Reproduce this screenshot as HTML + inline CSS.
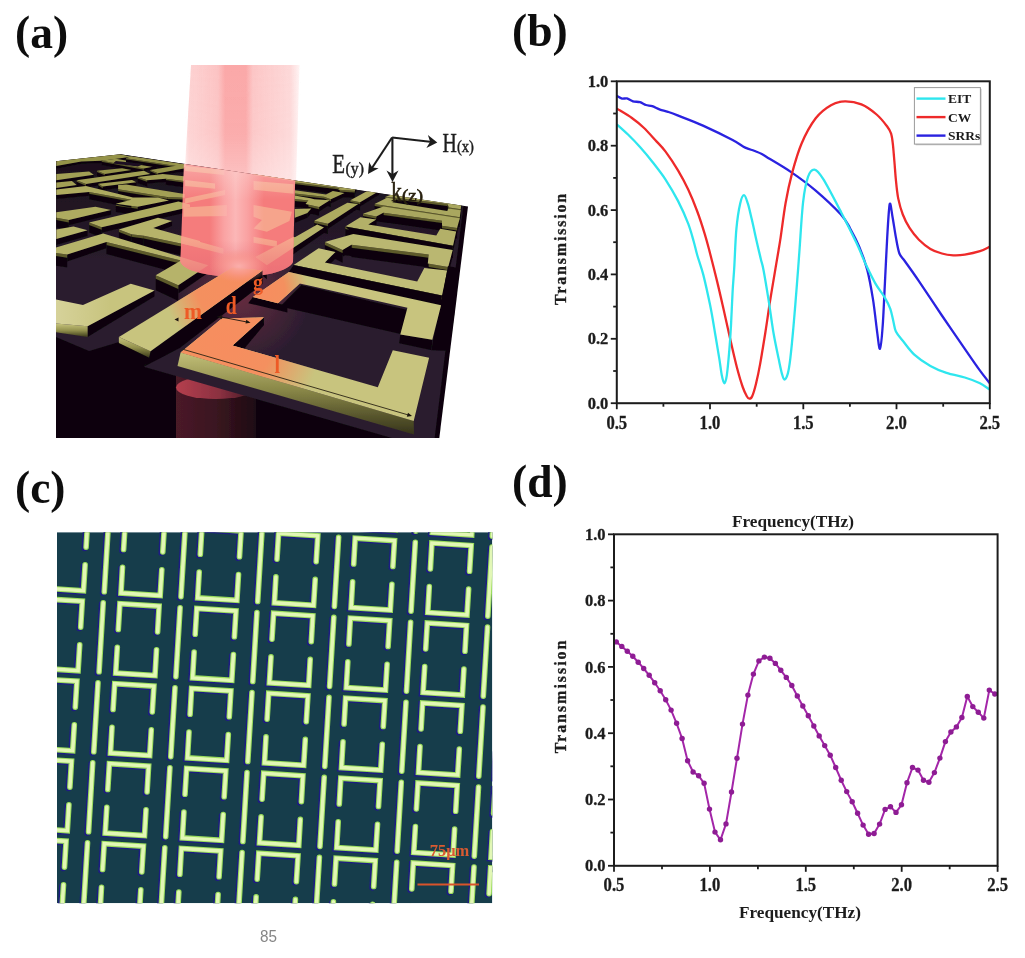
<!DOCTYPE html>
<html lang="en"><head><meta charset="utf-8"><title>Figure</title>
<style>html,body{margin:0;padding:0;background:#fff}body{width:1025px;height:958px;overflow:hidden;position:relative}svg{position:absolute;left:0;top:0;display:block}text{white-space:pre}</style></head>
<body>
<svg width="1025" height="958" viewBox="0 0 1025 958">
<defs><filter id="soft" x="-2%" y="-2%" width="104%" height="104%"><feGaussianBlur stdDeviation="0.6"/></filter><filter id="soft2" x="-2%" y="-2%" width="104%" height="104%"><feGaussianBlur stdDeviation="0.35"/></filter></defs>
<rect width="1025" height="958" fill="#fff"/>
<g filter="url(#soft)"><g id="pa">
<defs>
<linearGradient id="beamH" x1="0" x2="1" y1="0" y2="0"><stop offset="0" stop-color="#f86a6a" stop-opacity="0.10"/><stop offset="0.05" stop-color="#f86a6a" stop-opacity="0.30"/><stop offset="0.30" stop-color="#f86a6a" stop-opacity="0.40"/><stop offset="0.36" stop-color="#f86a6a" stop-opacity="0.58"/><stop offset="0.54" stop-color="#f86a6a" stop-opacity="0.58"/><stop offset="0.60" stop-color="#f86a6a" stop-opacity="0.38"/><stop offset="0.92" stop-color="#f86a6a" stop-opacity="0.26"/><stop offset="1" stop-color="#f86a6a" stop-opacity="0.08"/></linearGradient>
<linearGradient id="beamFade" gradientUnits="userSpaceOnUse" x1="0" x2="0" y1="65" y2="180"><stop offset="0" stop-color="#fff" stop-opacity="0"/><stop offset="0.6" stop-color="#fff" stop-opacity="0.05"/><stop offset="1" stop-color="#fff" stop-opacity="0.3"/></linearGradient>
<linearGradient id="beamCtr" gradientUnits="userSpaceOnUse" x1="182" x2="296" y1="0" y2="0"><stop offset="0.24" stop-color="#fcb4b4" stop-opacity="0"/><stop offset="0.37" stop-color="#fcb4b4" stop-opacity="0.7"/><stop offset="0.47" stop-color="#fcbcbc" stop-opacity="0.92"/><stop offset="0.57" stop-color="#fcb4b4" stop-opacity="0.7"/><stop offset="0.72" stop-color="#fcb4b4" stop-opacity="0"/></linearGradient>
<linearGradient id="beamBot" gradientUnits="userSpaceOnUse" x1="0" x2="0" y1="240" y2="280"><stop offset="0" stop-color="#e66a74" stop-opacity="0"/><stop offset="1" stop-color="#e66a74" stop-opacity="0.7"/></linearGradient>
<linearGradient id="beamTopFog" gradientUnits="userSpaceOnUse" x1="0" x2="0" y1="162" y2="200"><stop offset="0" stop-color="#fde0dc" stop-opacity="0.45"/><stop offset="1" stop-color="#fde0dc" stop-opacity="0"/></linearGradient>
<radialGradient id="glow" cx="0.5" cy="0.5" r="0.5"><stop offset="0" stop-color="#fbb0ac" stop-opacity="0.95"/><stop offset="0.45" stop-color="#fa9c94" stop-opacity="0.7"/><stop offset="1" stop-color="#f89080" stop-opacity="0"/></radialGradient>
<linearGradient id="beamLow" x1="0" x2="1" y1="0" y2="0"><stop offset="0" stop-color="#f87878" stop-opacity="0.88"/><stop offset="0.34" stop-color="#f87c7c" stop-opacity="0.86"/><stop offset="0.40" stop-color="#fbaaaa" stop-opacity="0.93"/><stop offset="0.58" stop-color="#fbaaaa" stop-opacity="0.93"/><stop offset="0.64" stop-color="#f87c7c" stop-opacity="0.86"/><stop offset="1" stop-color="#f87878" stop-opacity="0.88"/></linearGradient>
<radialGradient id="lit" gradientUnits="userSpaceOnUse" cx="262" cy="270" r="102"><stop offset="0" stop-color="#f78d5e" stop-opacity="1"/><stop offset="0.68" stop-color="#f4905e" stop-opacity="1"/><stop offset="1" stop-color="#f4905e" stop-opacity="0"/></radialGradient>
<radialGradient id="litB" gradientUnits="userSpaceOnUse" cx="225" cy="340" r="96"><stop offset="0" stop-color="#f78d5e" stop-opacity="1"/><stop offset="0.5" stop-color="#f4905e" stop-opacity="1"/><stop offset="1" stop-color="#f4905e" stop-opacity="0"/></radialGradient>
<radialGradient id="litC" gradientUnits="userSpaceOnUse" cx="262" cy="290" r="46"><stop offset="0" stop-color="#f78d5e" stop-opacity="1"/><stop offset="0.5" stop-color="#f4905e" stop-opacity="1"/><stop offset="1" stop-color="#f4905e" stop-opacity="0"/></radialGradient>
<radialGradient id="litSlab" gradientUnits="userSpaceOnUse" cx="240" cy="295" r="70"><stop offset="0" stop-color="#c0455a" stop-opacity="0.4"/><stop offset="1" stop-color="#c0455a" stop-opacity="0"/></radialGradient>
<linearGradient id="farDark" gradientUnits="userSpaceOnUse" x1="0" x2="0" y1="155" y2="270"><stop offset="0" stop-color="#0c060c" stop-opacity="0.6"/><stop offset="1" stop-color="#0c060c" stop-opacity="0"/></linearGradient>
<linearGradient id="front" x1="0" x2="0" y1="0" y2="1"><stop offset="0" stop-color="#c6c37c"/><stop offset="0.5" stop-color="#95934f"/><stop offset="1" stop-color="#3c3a1a"/></linearGradient>
<linearGradient id="front2" x1="0" x2="0" y1="0" y2="1"><stop offset="0" stop-color="#c2bf78"/><stop offset="0.45" stop-color="#8a8848"/><stop offset="1" stop-color="#35331a"/></linearGradient>
<linearGradient id="cylTop" gradientUnits="userSpaceOnUse" x1="176" x2="250" y1="0" y2="0"><stop offset="0" stop-color="#b53f4e"/><stop offset="0.6" stop-color="#8a3040"/><stop offset="1" stop-color="#4a1c28"/></linearGradient>
<linearGradient id="cylBody" gradientUnits="userSpaceOnUse" x1="176" x2="256" y1="0" y2="0"><stop offset="0" stop-color="#4a1a28"/><stop offset="0.5" stop-color="#3a1520"/><stop offset="1" stop-color="#1e0b12"/></linearGradient>
<linearGradient id="khL" gradientUnits="userSpaceOnUse" x1="56" x2="110" y1="0" y2="0"><stop offset="0" stop-color="#d6d29a"/><stop offset="1" stop-color="#c8c47e"/></linearGradient>
<clipPath id="silh"><polygon points="56.0,161.3 120.5,154.3 468.0,206.6 439.3,438.0 56.0,438.0"/></clipPath>
</defs>
<path d="M191,65 L299.5,65 L295.5,200 L183,200 Z" fill="url(#beamH)"/>
<path d="M189,64 L301,64 L297,200 L181,200 Z" fill="url(#beamFade)"/>
<polygon points="56.0,161.3 120.5,154.3 468.0,206.6 439.3,438.0 56.0,438.0" fill="#0c060c" />
<rect x="176" y="372" width="80" height="66" fill="url(#cylBody)"/>
<ellipse cx="215.7" cy="387.5" rx="39.7" ry="11.5" fill="url(#cylTop)"/>
<g clip-path="url(#silh)">
<polygon points="56.0,161.3 120.5,154.3 463.3,205.9 434.6,438.0 392.0,438.0 143.9,366.7 150.0,358.0 119.0,342.0 89.1,351.0 56.0,337.0" fill="#2b1d2f" />
<polygon points="56.0,161.3 120.5,154.3 463.3,205.9 434.6,438.0 392.0,438.0 143.9,366.7 150.0,358.0 119.0,342.0 89.1,351.0 56.0,337.0" fill="url(#litSlab)" />
<polygon points="56.0,161.3 120.5,154.3 463.3,205.9 434.6,438.0 392.0,438.0 143.9,366.7 150.0,358.0 119.0,342.0 89.1,351.0 56.0,337.0" fill="url(#farDark)" />
<polygon points="131.4,156.7 101.7,160.7 101.7,163.0 131.4,158.9" fill="#0c060c" />
<polygon points="101.7,160.7 81.3,161.4 81.3,163.8 101.7,163.0" fill="#0c060c" />
<polygon points="81.3,161.4 56.3,166.1 56.3,168.7 81.3,163.8" fill="#0c060c" />
<polygon points="56.3,159.9 81.3,157.5 118.9,154.1 131.4,156.7 101.7,160.7 81.3,161.4 56.3,166.1" fill="#95934a" />
<polygon points="156.5,166.1 143.9,168.5 143.9,171.2 156.5,168.7" fill="#0c060c" />
<polygon points="143.9,168.5 101.7,160.7 101.7,165.1 143.9,173.6" fill="#0c060c" />
<polygon points="143.9,168.5 101.7,160.7 101.7,161.7 143.9,169.7" fill="#5d5a2c" />
<polygon points="101.7,160.7 115.8,158.8 156.5,166.1 143.9,168.5" fill="#95934a" />
<polygon points="186.0,167.5 126.0,158.3 126.0,162.5 186.0,172.5" fill="#0c060c" />
<polygon points="186.0,167.5 126.0,158.3 126.0,159.3 186.0,168.7" fill="#5d5a2c" />
<polygon points="131.0,156.2 186.0,164.5 186.0,167.5 126.0,158.3" fill="#95934a" />
<polygon points="93.8,174.7 56.3,180.2 56.3,183.5 93.8,177.7" fill="#0c060c" />
<polygon points="56.3,174.0 89.1,171.6 93.8,174.7 56.3,180.2" fill="#a29f55" />
<polygon points="131.4,170.0 104.8,174.0 104.8,177.0 131.4,172.8" fill="#0c060c" />
<polygon points="104.8,174.0 97.0,170.8 97.0,176.1 104.8,179.6" fill="#0c060c" />
<polygon points="104.8,174.0 97.0,170.8 97.0,172.1 104.8,175.3" fill="#5d5a2c" />
<polygon points="97.0,170.8 122.0,168.2 131.4,170.0 104.8,174.0" fill="#95934a" />
<polygon points="183.9,168.5 158.0,173.2 158.0,176.1 183.9,171.2" fill="#0c060c" />
<polygon points="158.0,173.2 150.2,170.0 150.2,175.3 158.0,178.8" fill="#0c060c" />
<polygon points="158.0,173.2 150.2,170.0 150.2,171.2 158.0,174.5" fill="#5d5a2c" />
<polygon points="150.2,170.0 183.9,164.6 183.9,168.5 158.0,173.2" fill="#95934a" />
<polygon points="150.2,174.0 86.0,184.1 86.0,187.6 150.2,177.0" fill="#0c060c" />
<polygon points="86.0,184.1 76.6,180.2 76.6,186.4 86.0,190.7" fill="#0c060c" />
<polygon points="86.0,184.1 76.6,180.2 76.6,181.7 86.0,185.7" fill="#5d5a2c" />
<polygon points="76.6,180.2 143.9,170.8 150.2,174.0 86.0,184.1" fill="#a29f55" />
<polygon points="183.9,181.0 165.9,178.7 165.9,184.8 183.9,187.3" fill="#0c060c" />
<polygon points="183.9,181.0 165.9,178.7 165.9,180.1 183.9,182.5" fill="#5d5a2c" />
<polygon points="165.9,178.7 147.1,180.2 147.1,183.5 165.9,181.9" fill="#0c060c" />
<polygon points="147.1,180.2 137.7,177.1 137.7,183.0 147.1,186.4" fill="#0c060c" />
<polygon points="147.1,180.2 137.7,177.1 137.7,178.5 147.1,181.7" fill="#5d5a2c" />
<polygon points="137.7,177.1 162.7,174.0 183.9,176.3 183.9,181.0 165.9,178.7 147.1,180.2" fill="#a29f55" />
<polygon points="76.6,184.9 56.3,188.1 56.3,191.7 76.6,188.4" fill="#0c060c" />
<polygon points="56.3,182.6 71.9,181.0 76.6,184.9 56.3,188.1" fill="#a29f55" />
<polygon points="136.3,182.2 102.7,186.6 102.7,190.2 136.3,185.6" fill="#0c060c" />
<polygon points="102.7,186.6 98.3,183.7 98.3,190.2 102.7,193.4" fill="#0c060c" />
<polygon points="102.7,186.6 98.3,183.7 98.3,185.2 102.7,188.2" fill="#5d5a2c" />
<polygon points="98.3,183.7 132.0,180.0 136.3,182.2 102.7,186.6" fill="#a29f55" />
<polygon points="184.6,197.7 167.1,197.1 167.1,204.8 184.6,205.5" fill="#0c060c" />
<polygon points="184.6,197.7 167.1,197.1 167.1,198.9 184.6,199.5" fill="#5d5a2c" />
<polygon points="167.1,197.1 118.1,189.2 118.1,196.2 167.1,204.8" fill="#0c060c" />
<polygon points="167.1,197.1 118.1,189.2 118.1,190.9 167.1,198.9" fill="#5d5a2c" />
<polygon points="118.1,185.1 126.1,184.5 184.6,193.9 184.6,197.7 167.1,197.1 118.1,189.2" fill="#a29f55" />
<polygon points="169.0,200.6 137.7,206.8 137.7,211.3 169.0,204.8" fill="#0c060c" />
<polygon points="137.7,206.8 115.8,203.7 115.8,212.0 137.7,215.4" fill="#0c060c" />
<polygon points="137.7,206.8 115.8,203.7 115.8,205.7 137.7,208.8" fill="#5d5a2c" />
<polygon points="131.4,199.8 89.1,192.0 89.1,199.3 131.4,207.8" fill="#0c060c" />
<polygon points="131.4,199.8 89.1,192.0 89.1,193.7 131.4,201.7" fill="#5d5a2c" />
<polygon points="89.1,192.0 56.3,195.1 56.3,199.1 89.1,195.8" fill="#0c060c" />
<polygon points="56.3,189.6 86.0,186.0 133.0,197.4 158.0,197.4 169.0,200.6 137.7,206.8 115.8,203.7 131.4,199.8 89.1,192.0 56.3,195.1" fill="#aeab60" />
<polygon points="111.1,210.0 68.8,220.1 68.8,225.3 111.1,214.7" fill="#0c060c" />
<polygon points="68.8,220.1 56.3,217.8 56.3,227.4 68.8,229.9" fill="#0c060c" />
<polygon points="68.8,220.1 56.3,217.8 56.3,220.1 68.8,222.4" fill="#5d5a2c" />
<polygon points="56.3,212.3 95.4,206.8 111.1,210.0 68.8,220.1 56.3,217.8" fill="#aeab60" />
<polygon points="190.0,207.0 101.7,227.2 101.7,232.7 190.0,211.6" fill="#0c060c" />
<polygon points="101.7,227.2 89.1,222.5 89.1,232.6 101.7,237.7" fill="#0c060c" />
<polygon points="101.7,227.2 89.1,222.5 89.1,224.9 101.7,229.7" fill="#5d5a2c" />
<polygon points="89.1,222.5 178.4,201.4 190.0,204.5 190.0,207.0 101.7,227.2" fill="#aeab60" />
<polygon points="87.6,230.3 56.3,238.9 56.3,245.0 87.6,236.0" fill="#0c060c" />
<polygon points="56.3,229.5 73.5,226.4 87.6,230.3 56.3,238.9" fill="#b6b36a" />
<polygon points="172.1,220.9 153.3,228.0 153.3,233.6 172.1,226.1" fill="#0c060c" />
<polygon points="200.0,247.5 143.9,235.8 143.9,247.1 200.0,259.8" fill="#0c060c" />
<polygon points="200.0,247.5 143.9,235.8 143.9,238.5 200.0,250.4" fill="#5d5a2c" />
<polygon points="143.9,235.8 131.4,234.2 131.4,245.3 143.9,247.1" fill="#0c060c" />
<polygon points="143.9,235.8 131.4,234.2 131.4,236.8 143.9,238.5" fill="#5d5a2c" />
<polygon points="131.4,234.2 118.9,229.5 118.9,240.2 131.4,245.3" fill="#0c060c" />
<polygon points="131.4,234.2 118.9,229.5 118.9,232.0 131.4,236.8" fill="#5d5a2c" />
<polygon points="118.9,229.5 158.0,217.8 172.1,220.9 153.3,228.0 200.0,241.0 200.0,247.5 143.9,235.8 131.4,234.2" fill="#b6b36a" />
<polygon points="208.3,265.3 178.3,285.3 178.3,293.6 208.3,272.7" fill="#0c060c" />
<polygon points="178.3,285.3 155.7,275.3 155.7,290.2 178.3,301.1" fill="#0c060c" />
<polygon points="178.3,285.3 155.7,275.3 155.7,278.8 178.3,289.0" fill="#5d5a2c" />
<polygon points="181.0,260.5 106.4,242.1 106.4,253.9 181.0,274.0" fill="#0c060c" />
<polygon points="181.0,260.5 106.4,242.1 106.4,244.9 181.0,263.7" fill="#5d5a2c" />
<polygon points="106.4,242.1 67.2,254.6 67.2,261.4 106.4,248.3" fill="#0c060c" />
<polygon points="67.2,254.6 56.0,253.0 56.0,265.8 67.2,267.6" fill="#0c060c" />
<polygon points="67.2,254.6 56.0,253.0 56.0,256.0 67.2,257.7" fill="#5d5a2c" />
<polygon points="56.0,247.5 103.2,233.5 208.3,265.3 178.3,285.3 155.7,275.3 181.0,260.5 106.4,242.1 67.2,254.6 56.0,253.0" fill="#b6b36a" />
<polygon points="115.9,161.0 143.7,163.9 137.8,166.4 112.9,163.5" fill="#1a1020" />
<polygon points="224.3,175.1 185.1,170.9 185.1,176.3 224.3,180.8" fill="#0c060c" />
<polygon points="224.3,175.1 185.1,170.9 185.1,172.2 224.3,176.5" fill="#5d5a2c" />
<polygon points="185.1,165.9 224.3,170.0 224.3,175.1 185.1,170.9" fill="#95934a" />
<polygon points="215.1,188.7 185.1,185.9 185.1,192.6 215.1,195.7" fill="#0c060c" />
<polygon points="215.1,188.7 185.1,185.9 185.1,187.5 215.1,190.4" fill="#5d5a2c" />
<polygon points="185.1,180.1 215.1,183.4 215.1,188.7 185.1,185.9" fill="#a29f55" />
<polygon points="225.1,195.1 185.1,203.4 185.1,207.8 225.1,199.1" fill="#0c060c" />
<polygon points="185.1,198.4 225.1,190.1 225.1,195.1 185.1,203.4" fill="#aeab60" />
<polygon points="226.8,216.0 183.4,216.8 183.4,221.8 226.8,221.0" fill="#0c060c" />
<polygon points="183.4,207.6 226.8,205.1 226.8,216.0 183.4,216.8" fill="#aeab60" />
<polygon points="223.5,253.9 181.7,243.5 181.7,255.5 223.5,266.8" fill="#0c060c" />
<polygon points="223.5,253.9 181.7,243.5 181.7,246.3 223.5,257.0" fill="#5d5a2c" />
<polygon points="181.7,236.8 223.5,248.5 223.5,253.9 181.7,243.5" fill="#b6b36a" />
<polygon points="293.6,180.9 253.5,175.1 253.5,180.8 293.6,187.2" fill="#0c060c" />
<polygon points="293.6,180.9 253.5,175.1 253.5,176.5 293.6,182.4" fill="#5d5a2c" />
<polygon points="253.5,171.7 293.6,177.6 293.6,180.9 253.5,175.1" fill="#a29f55" />
<polygon points="293.6,193.8 253.5,189.7 253.5,196.8 293.6,201.2" fill="#0c060c" />
<polygon points="293.6,193.8 253.5,189.7 253.5,191.4 293.6,195.6" fill="#5d5a2c" />
<polygon points="253.5,180.9 293.6,184.2 293.6,193.8 253.5,189.7" fill="#a29f55" />
<polygon points="291.9,211.8 289.4,221.0 289.4,226.2 291.9,216.6" fill="#0c060c" />
<polygon points="289.4,221.0 266.9,231.8 266.9,237.5 289.4,226.2" fill="#0c060c" />
<polygon points="266.9,231.8 253.5,228.5 253.5,239.1 266.9,242.7" fill="#0c060c" />
<polygon points="266.9,231.8 253.5,228.5 253.5,231.0 266.9,234.4" fill="#5d5a2c" />
<polygon points="261.9,220.1 253.5,216.8 253.5,226.3 261.9,229.9" fill="#0c060c" />
<polygon points="261.9,220.1 253.5,216.8 253.5,219.1 261.9,222.4" fill="#5d5a2c" />
<polygon points="253.5,205.1 291.9,211.8 289.4,221.0 266.9,231.8 253.5,228.5 261.9,220.1 253.5,216.8" fill="#aeab60" />
<polygon points="276.9,246.9 253.5,242.7 253.5,254.6 276.9,259.2" fill="#0c060c" />
<polygon points="276.9,246.9 253.5,242.7 253.5,245.5 276.9,249.8" fill="#5d5a2c" />
<polygon points="253.5,236.8 276.9,241.0 276.9,246.9 253.5,242.7" fill="#b6b36a" />
<polygon points="356.7,186.4 354.8,190.7 354.8,194.5 356.7,190.0" fill="#0c060c" />
<polygon points="354.8,190.7 338.2,189.8 338.2,196.9 354.8,197.9" fill="#0c060c" />
<polygon points="354.8,190.7 338.2,189.8 338.2,191.5 354.8,192.4" fill="#5d5a2c" />
<polygon points="339.6,188.0 294.8,182.5 294.8,188.9 339.6,194.9" fill="#0c060c" />
<polygon points="339.6,188.0 294.8,182.5 294.8,184.0 339.6,189.6" fill="#5d5a2c" />
<polygon points="294.8,179.1 339.6,184.4 356.7,186.4 354.8,190.7 338.2,189.8 339.6,188.0 294.8,182.5" fill="#a29f55" />
<polygon points="344.5,192.9 330.9,199.3 330.9,203.5 344.5,196.8" fill="#0c060c" />
<polygon points="330.9,199.3 324.0,196.8 324.0,204.5 330.9,207.2" fill="#0c060c" />
<polygon points="330.9,199.3 324.0,196.8 324.0,198.6 330.9,201.2" fill="#5d5a2c" />
<polygon points="324.0,196.8 294.8,193.4 294.8,200.8 324.0,204.5" fill="#0c060c" />
<polygon points="324.0,196.8 294.8,193.4 294.8,195.2 324.0,198.6" fill="#5d5a2c" />
<polygon points="294.8,190.3 326.0,194.4 332.8,191.0 344.5,192.9 330.9,199.3 324.0,196.8 294.8,193.4" fill="#a29f55" />
<polygon points="329.9,200.2 319.1,207.1 319.1,211.7 329.9,204.4" fill="#0c060c" />
<polygon points="319.1,207.1 305.5,204.1 305.5,212.5 319.1,215.8" fill="#0c060c" />
<polygon points="319.1,207.1 305.5,204.1 305.5,206.1 319.1,209.2" fill="#5d5a2c" />
<polygon points="308.4,200.4 294.8,199.1 294.8,207.0 308.4,208.4" fill="#0c060c" />
<polygon points="308.4,200.4 294.8,199.1 294.8,201.0 308.4,202.3" fill="#5d5a2c" />
<polygon points="294.8,195.6 310.4,198.3 314.3,199.3 329.9,200.2 319.1,207.1 305.5,204.1 308.4,200.4 294.8,199.1" fill="#aeab60" />
<polygon points="311.3,208.5 307.4,212.9 307.4,217.7 311.3,213.1" fill="#0c060c" />
<polygon points="307.4,212.9 294.8,217.8 294.8,222.9 307.4,217.7" fill="#0c060c" />
<polygon points="294.8,209.0 311.3,208.5 307.4,212.9 294.8,217.8" fill="#aeab60" />
<polygon points="379.1,191.0 360.1,202.2 360.1,206.5 379.1,194.8" fill="#0c060c" />
<polygon points="360.1,202.2 350.4,200.2 350.4,208.2 360.1,210.4" fill="#0c060c" />
<polygon points="360.1,202.2 350.4,200.2 350.4,202.1 360.1,204.1" fill="#5d5a2c" />
<polygon points="350.4,200.2 370.9,189.0 379.1,191.0 360.1,202.2" fill="#aeab60" />
<polygon points="358.2,204.1 327.9,223.7 327.9,229.1 358.2,208.5" fill="#0c060c" />
<polygon points="327.9,223.7 314.3,220.7 314.3,230.6 327.9,233.9" fill="#0c060c" />
<polygon points="327.9,223.7 314.3,220.7 314.3,223.0 327.9,226.1" fill="#5d5a2c" />
<polygon points="314.3,220.7 347.4,202.7 358.2,204.1 327.9,223.7" fill="#aeab60" />
<polygon points="324.0,227.6 266.9,265.2 266.9,272.5 324.0,233.1" fill="#0c060c" />
<polygon points="266.9,265.2 255.2,256.9 255.2,270.1 266.9,279.2" fill="#0c060c" />
<polygon points="266.9,265.2 255.2,256.9 255.2,260.0 266.9,268.5" fill="#5d5a2c" />
<polygon points="255.2,256.9 293.6,236.8 294.9,237.3 317.2,224.6 324.0,227.6 266.9,265.2" fill="#b6b36a" />
<polygon points="461.5,203.1 460.7,209.3 460.7,214.0 461.5,207.5" fill="#0c060c" />
<polygon points="460.7,209.3 449.1,207.5 449.1,216.2 460.7,218.2" fill="#0c060c" />
<polygon points="460.7,209.3 449.1,207.5 449.1,209.6 460.7,211.4" fill="#5d5a2c" />
<polygon points="449.1,207.5 447.3,204.0 447.3,212.4 449.1,216.2" fill="#0c060c" />
<polygon points="449.1,207.5 447.3,204.0 447.3,206.0 449.1,209.6" fill="#5d5a2c" />
<polygon points="447.3,204.0 395.9,197.8 395.9,205.6 447.3,212.4" fill="#0c060c" />
<polygon points="447.3,204.0 395.9,197.8 395.9,199.6 447.3,206.0" fill="#5d5a2c" />
<polygon points="395.9,197.8 385.2,196.9 385.2,204.6 395.9,205.6" fill="#0c060c" />
<polygon points="395.9,197.8 385.2,196.9 385.2,198.7 395.9,199.6" fill="#5d5a2c" />
<polygon points="385.2,196.9 392.3,194.2 461.5,203.1 460.7,209.3 449.1,207.5 447.3,204.0 395.9,197.8" fill="#a9a75e" />
<polygon points="395.9,199.2 392.3,202.2 392.3,206.5 395.9,203.4" fill="#0c060c" />
<polygon points="460.7,210.2 459.8,217.3 459.8,222.3 460.7,214.9" fill="#0c060c" />
<polygon points="459.8,217.3 374.6,204.0 374.6,212.4 459.8,226.9" fill="#0c060c" />
<polygon points="459.8,217.3 374.6,204.0 374.6,206.0 459.8,219.6" fill="#5d5a2c" />
<polygon points="374.6,204.0 387.0,197.8 395.9,199.2 392.3,202.2 447.3,211.1 448.2,208.4 460.7,210.2 459.8,217.3" fill="#a9a75e" />
<polygon points="383.4,212.8 442.0,220.8 441.0,229.0 372.0,221.0" fill="#0c060c" />
<polygon points="459.8,218.2 457.1,227.9 457.1,233.5 459.8,223.3" fill="#0c060c" />
<polygon points="457.1,227.9 442.0,225.8 442.0,236.2 457.1,238.5" fill="#0c060c" />
<polygon points="457.1,227.9 442.0,225.8 442.0,228.3 457.1,230.4" fill="#5d5a2c" />
<polygon points="442.0,220.8 383.4,212.8 383.4,222.0 442.0,230.7" fill="#0c060c" />
<polygon points="442.0,220.8 383.4,212.8 383.4,215.0 442.0,223.1" fill="#5d5a2c" />
<polygon points="383.4,212.8 376.3,216.4 376.3,221.4 383.4,217.6" fill="#0c060c" />
<polygon points="376.3,216.4 363.0,213.7 363.0,223.0 376.3,225.9" fill="#0c060c" />
<polygon points="376.3,216.4 363.0,213.7 363.0,215.9 376.3,218.7" fill="#5d5a2c" />
<polygon points="363.0,213.7 383.4,206.6 459.8,218.2 457.1,227.9 442.0,225.8 442.0,220.8 383.4,212.8 376.3,216.4" fill="#a9a75e" />
<polygon points="376.3,219.4 368.3,224.4 368.3,229.8 376.3,224.5" fill="#0c060c" />
<polygon points="456.2,231.5 453.0,245.7 453.0,252.1 456.2,237.2" fill="#0c060c" />
<polygon points="453.0,245.7 345.3,226.5 345.3,236.9 453.0,257.9" fill="#0c060c" />
<polygon points="453.0,245.7 345.3,226.5 345.3,229.0 453.0,248.6" fill="#5d5a2c" />
<polygon points="345.3,226.5 360.4,217.3 376.3,219.4 368.3,224.4 436.3,235.4 440.2,228.8 456.2,231.5 453.0,245.7" fill="#b3b068" />
<polygon points="345.3,226.5 453.0,245.7 452.7,250.1 353.3,234.1" fill="#0c060c" />
<polygon points="351.5,244.8 428.7,254.6 425.5,266.5 336.0,254.0" fill="#0c060c" />
<polygon points="452.7,250.1 448.2,267.0 448.2,274.4 452.7,256.7" fill="#0c060c" />
<polygon points="448.2,267.0 427.8,263.4 427.8,277.2 448.2,281.1" fill="#0c060c" />
<polygon points="448.2,267.0 427.8,263.4 427.8,266.7 448.2,270.3" fill="#5d5a2c" />
<polygon points="428.7,254.6 351.5,244.8 351.5,256.9 428.7,267.6" fill="#0c060c" />
<polygon points="428.7,254.6 351.5,244.8 351.5,247.7 428.7,257.7" fill="#5d5a2c" />
<polygon points="351.5,244.8 342.6,250.1 342.6,256.7 351.5,251.2" fill="#0c060c" />
<polygon points="342.6,250.1 324.9,242.1 324.9,253.9 342.6,262.7" fill="#0c060c" />
<polygon points="342.6,250.1 324.9,242.1 324.9,244.9 342.6,253.1" fill="#5d5a2c" />
<polygon points="324.9,242.1 353.3,234.1 452.7,250.1 448.2,267.0 427.8,263.4 428.7,254.6 351.5,244.8 342.6,250.1" fill="#bab771" />
<polygon points="335.5,251.9 324.9,262.5 324.9,269.7 335.5,258.6" fill="#0c060c" />
<polygon points="447.3,270.5 442.0,295.4 442.0,304.2 447.3,278.1" fill="#0c060c" />
<polygon points="442.0,295.4 293.6,264.9 293.6,278.8 442.0,312.1" fill="#0c060c" />
<polygon points="442.0,295.4 293.6,264.9 293.6,268.2 442.0,299.4" fill="#5d5a2c" />
<polygon points="293.6,264.9 318.6,248.3 335.5,251.9 324.9,262.5 417.2,281.5 424.3,267.9 447.3,270.5 442.0,295.4" fill="#c1be78" />
<polygon points="440.4,306.0 455.0,309.0 449.2,351.0 431.6,350.2 432.9,340.2" fill="#0c060c" />
<polygon points="447.9,266.0 458.5,268.0 454.6,311.0 440.4,308.0" fill="#0c060c" />
<polygon points="293.6,264.9 442.0,295.4 441.1,305.2 288.9,271.9" fill="#0c060c" />
<polygon points="301.4,285.1 407.8,310.1 400.3,333.9 280.1,306.4" fill="#0c060c" />
<polygon points="252.9,296.9 278.0,303.2 287.4,306.3 287.4,312.6 248.2,303.2" fill="#0c060c" />
<polygon points="400.3,334.4 432.3,339.8 431.6,350.2 399.1,343.2" fill="#0c060c" />
<polygon points="252.9,296.9 288.9,271.9 441.1,305.2 432.3,339.8 400.3,334.4 407.4,307.8 299.9,283.6 278.0,303.2" fill="#c8c47e" />
<polygon points="252.9,296.9 288.9,271.9 441.1,305.2 432.3,339.8 400.3,334.4 407.4,307.8 299.9,283.6 278.0,303.2" fill="url(#litC)" />
<clipPath id="beamClip"><path d="M184.5,150 L296,150 L293,262 A56.5,17 0 0 1 180.5,258 Z"/></clipPath>
<g clip-path="url(#beamClip)">
<rect x="170" y="150" width="140" height="140" fill="#f57b7b"/>
<polygon points="131.0,156.2 186.0,164.5 186.0,167.5 126.0,158.3" fill="#f6a48c" />
<polygon points="150.2,170.0 183.9,164.6 183.9,168.5 158.0,173.2" fill="#f6a48c" />
<polygon points="137.7,177.1 162.7,174.0 183.9,176.3 183.9,181.0 165.9,178.7 147.1,180.2" fill="#f6a48c" />
<polygon points="118.1,185.1 126.1,184.5 184.6,193.9 184.6,197.7 167.1,197.1 118.1,189.2" fill="#f6a48c" />
<polygon points="89.1,222.5 178.4,201.4 190.0,204.5 190.0,207.0 101.7,227.2" fill="#f6a48c" />
<polygon points="118.9,229.5 158.0,217.8 172.1,220.9 153.3,228.0 200.0,241.0 200.0,247.5 143.9,235.8 131.4,234.2" fill="#f6a48c" />
<polygon points="56.0,247.5 103.2,233.5 208.3,265.3 178.3,285.3 155.7,275.3 181.0,260.5 106.4,242.1 67.2,254.6 56.0,253.0" fill="#f6a48c" />
<polygon points="185.1,165.9 224.3,170.0 224.3,175.1 185.1,170.9" fill="#f6a48c" />
<polygon points="185.1,180.1 215.1,183.4 215.1,188.7 185.1,185.9" fill="#f6a48c" />
<polygon points="185.1,198.4 225.1,190.1 225.1,195.1 185.1,203.4" fill="#f6a48c" />
<polygon points="183.4,207.6 226.8,205.1 226.8,216.0 183.4,216.8" fill="#f6a48c" />
<polygon points="181.7,236.8 223.5,248.5 223.5,253.9 181.7,243.5" fill="#f6a48c" />
<polygon points="253.5,171.7 293.6,177.6 293.6,180.9 253.5,175.1" fill="#f6a48c" />
<polygon points="253.5,180.9 293.6,184.2 293.6,193.8 253.5,189.7" fill="#f6a48c" />
<polygon points="253.5,205.1 291.9,211.8 289.4,221.0 266.9,231.8 253.5,228.5 261.9,220.1 253.5,216.8" fill="#f6a48c" />
<polygon points="253.5,236.8 276.9,241.0 276.9,246.9 253.5,242.7" fill="#f6a48c" />
<polygon points="294.8,179.1 339.6,184.4 356.7,186.4 354.8,190.7 338.2,189.8 339.6,188.0 294.8,182.5" fill="#f6a48c" />
<polygon points="294.8,190.3 326.0,194.4 332.8,191.0 344.5,192.9 330.9,199.3 324.0,196.8 294.8,193.4" fill="#f6a48c" />
<polygon points="294.8,195.6 310.4,198.3 314.3,199.3 329.9,200.2 319.1,207.1 305.5,204.1 308.4,200.4 294.8,199.1" fill="#f6a48c" />
<polygon points="294.8,209.0 311.3,208.5 307.4,212.9 294.8,217.8" fill="#f6a48c" />
<polygon points="255.2,256.9 293.6,236.8 294.9,237.3 317.2,224.6 324.0,227.6 266.9,265.2" fill="#f6a48c" />
<polygon points="293.6,264.9 318.6,248.3 335.5,251.9 324.9,262.5 417.2,281.5 424.3,267.9 447.3,270.5 442.0,295.4" fill="#f6a48c" />
<rect x="170" y="150" width="140" height="140" fill="url(#beamCtr)"/>
<rect x="170" y="240" width="140" height="50" fill="url(#beamBot)"/>
<rect x="170" y="150" width="140" height="60" fill="url(#beamTopFog)"/>
</g>
<polygon points="87.6,326.3 154.5,290.5 154.5,296.5 87.6,337.0" fill="#0c060c" />
<polygon points="56.0,323.6 87.6,326.3 87.6,337.0 56.0,332.3" fill="url(#front)" />
<polygon points="56.0,299.4 83.0,305.0 130.7,283.8 154.5,290.5 87.6,326.3 56.0,323.6" fill="url(#khL)" />
<polygon points="150.5,351.3 262.5,270.4 262.5,284.0 179.9,347.9 143.9,366.7 149.0,357.5" fill="#0c060c" />
<polygon points="118.9,337.0 150.5,351.3 149.0,357.5 118.9,343.0" fill="url(#front)" />
<polygon points="118.9,337.0 232.5,267.6 262.5,270.4 150.5,351.3" fill="#c8c47e" />
<polygon points="118.9,337.0 232.5,267.6 262.5,270.4 150.5,351.3" fill="url(#lit)" />
<polygon points="263.9,317.3 232.6,345.5 244.0,349.0 264.0,325.0" fill="#0c060c" />
<polygon points="180.6,352.6 413.7,421.0 414.0,434.5 177.5,366.0" fill="url(#front2)" />
<polygon points="180.6,352.6 221.8,318.5 263.9,317.3 232.6,345.5 377.8,387.3 392.8,350.2 429.1,357.7 413.7,421.0" fill="#c8c47e" />
<polygon points="180.6,352.6 221.8,318.5 263.9,317.3 232.6,345.5 377.8,387.3 392.8,350.2 429.1,357.7 413.7,421.0" fill="url(#litB)" />
<line x1="182" y1="349" x2="410.5" y2="415.6" stroke="#2a2414" stroke-width="0.9"/>
<ellipse cx="239" cy="266" rx="30" ry="17" fill="url(#glow)"/>
</g>
<g stroke="#1e1e1e" stroke-width="2.1" fill="#1e1e1e">
<line x1="392.1" y1="137.5" x2="430" y2="141.8"/><polygon points="437.3,142.6 426.4,147.9 430.1,141.8 427.9,135.1" stroke="none"/>
<line x1="392.1" y1="137.5" x2="372" y2="168"/><polygon points="368,174 369.1,162 372.3,167.5 378.6,168.2" stroke="none"/>
<line x1="392.4" y1="137.5" x2="392.4" y2="174"/><polygon points="392.5,182 386.5,170.5 392.5,174 398.5,170.5" stroke="none"/>
</g>
<text x="332.2" y="173.2" font-family='"Liberation Serif", serif' font-size="27" fill="#1e1e1e" stroke="#1e1e1e" stroke-width="0.45" textLength="12.8" lengthAdjust="spacingAndGlyphs">E</text><text x="345.6" y="173.6" font-family='"Liberation Serif", serif' font-size="17" fill="#1e1e1e" stroke="#1e1e1e" stroke-width="0.45" textLength="18.3" lengthAdjust="spacingAndGlyphs">(y)</text>
<text x="442.4" y="151.9" font-family='"Liberation Serif", serif' font-size="27.5" fill="#1e1e1e" stroke="#1e1e1e" stroke-width="0.45" textLength="14.3" lengthAdjust="spacingAndGlyphs">H</text><text x="456.9" y="152" font-family='"Liberation Serif", serif' font-size="17" fill="#1e1e1e" stroke="#1e1e1e" stroke-width="0.45" textLength="17" lengthAdjust="spacingAndGlyphs">(x)</text>
<text x="391.3" y="200.6" font-family='"Liberation Serif", serif' font-size="27" fill="#28200f" stroke="#28200f" stroke-width="0.6" textLength="10.5" lengthAdjust="spacingAndGlyphs">k</text><text x="402" y="200.6" font-family='"Liberation Serif", serif' font-size="16" fill="#28200f" stroke="#28200f" stroke-width="0.6" textLength="21" lengthAdjust="spacingAndGlyphs">(z)</text>
<text x="184" y="319" font-family='"Liberation Serif", serif' font-weight="700" font-size="24" fill="#ee5a26" textLength="18" lengthAdjust="spacingAndGlyphs">m</text>
<text x="225.7" y="314.3" font-family='"Liberation Serif", serif' font-weight="700" font-size="26" fill="#ee5a26" textLength="11" lengthAdjust="spacingAndGlyphs">d</text>
<text x="253" y="290" font-family='"Liberation Serif", serif' font-weight="700" font-size="24" fill="#ee5a26" textLength="10" lengthAdjust="spacingAndGlyphs">g</text>
<text x="274.5" y="372.5" font-family='"Liberation Serif", serif' font-weight="700" font-size="25" fill="#ee5a26" textLength="5.5" lengthAdjust="spacingAndGlyphs">l</text>
<g stroke="#1a1410" stroke-width="0.9" fill="#1a1410">
<line x1="219" y1="316.6" x2="249" y2="322.4"/><polygon points="250.5,322.7 245.5,323.6 246.3,319.8" stroke="none"/><polygon points="217.5,316.3 222.5,315.4 221.7,319.2" stroke="none"/>
<polygon points="174.5,319.5 178.5,317.6 178.5,321.4" stroke="none"/>
<polygon points="412,416 406.8,416.8 408,412.8" stroke="none"/>
</g>
</g>
</g>
<g filter="url(#soft)"><g id="pc">
<clipPath id="cc"><rect x="57" y="532.2" width="435.3" height="371.0"/></clipPath>
<g clip-path="url(#cc)">
<rect x="57" y="532.2" width="435.3" height="371.0" fill="#173e4b"/>
<path d="M-18.7 379.8 L-17.2 353.9 L22.1 356.4 L20.5 382.2M-19.8 397.5 L-21.3 423.4 L17.9 425.9 L19.5 400.0M-33.8 353.1 L-38.0 422.1M-24.3 459.8 L-22.7 433.9 L16.5 436.4 L15.0 462.2M-25.3 477.5 L-26.9 503.4 L12.4 505.9 L13.9 480.0M-39.4 433.1 L-43.5 502.1M-29.8 539.8 L-28.3 513.9 L11.0 516.4 L9.4 542.2M-30.9 557.5 L-32.4 583.4 L6.8 585.9 L8.4 560.0M-44.9 513.1 L-49.1 582.1M-35.4 619.8 L-33.8 593.9 L5.4 596.4 L3.9 622.2M-36.4 637.5 L-38.0 663.4 L1.3 665.9 L2.8 640.0M-50.5 593.1 L-54.6 662.1M-40.9 699.8 L-39.4 673.9 L-0.1 676.4 L-1.7 702.2M-42.0 717.5 L-43.5 743.4 L-4.3 745.9 L-2.7 720.0M-56.0 673.1 L-60.2 742.1M-46.5 779.8 L-44.9 753.9 L-5.7 756.4 L-7.2 782.2M-47.5 797.5 L-49.1 823.4 L-9.8 825.9 L-8.3 800.0M-61.6 753.1 L-65.7 822.1M-52.0 859.8 L-50.5 833.9 L-11.2 836.4 L-12.8 862.2M-53.1 877.5 L-54.6 903.4 L-15.4 905.9 L-13.8 880.0M-67.1 833.1 L-71.3 902.1M-57.6 939.8 L-56.0 913.9 L-16.8 916.4 L-18.3 942.2M-58.6 957.5 L-60.2 983.4 L-20.9 985.9 L-19.4 960.0M-72.7 913.1 L-76.8 982.1M-63.1 1019.8 L-61.6 993.9 L-22.3 996.4 L-23.9 1022.2M-64.2 1037.5 L-65.7 1063.4 L-26.5 1065.9 L-24.9 1040.0M-78.2 993.1 L-82.4 1062.1M57.7 384.6 L59.3 358.8 L98.5 361.2 L96.9 387.1M56.6 402.4 L55.1 428.2 L94.3 430.7 L95.9 404.8M42.6 358.0 L38.4 427.0M52.3 464.6 L53.9 438.8 L93.1 441.2 L91.5 467.1M51.2 482.4 L49.7 508.2 L88.9 510.7 L90.5 484.8M37.2 438.0 L33.0 507.0M46.9 544.6 L48.5 518.8 L87.7 521.2 L86.1 547.1M45.8 562.4 L44.3 588.2 L83.5 590.7 L85.1 564.8M31.8 518.0 L27.6 587.0M41.5 624.6 L43.1 598.8 L82.3 601.2 L80.7 627.1M40.4 642.4 L38.9 668.2 L78.1 670.7 L79.7 644.8M26.4 598.0 L22.2 667.0M36.1 704.6 L37.7 678.8 L76.9 681.2 L75.3 707.1M35.0 722.4 L33.5 748.2 L72.7 750.7 L74.3 724.8M21.0 678.0 L16.8 747.0M30.7 784.6 L32.3 758.8 L71.5 761.2 L69.9 787.1M29.6 802.4 L28.1 828.2 L67.3 830.7 L68.9 804.8M15.6 758.0 L11.4 827.0M25.3 864.6 L26.9 838.8 L66.1 841.2 L64.5 867.1M24.2 882.4 L22.7 908.2 L61.9 910.7 L63.5 884.8M10.2 838.0 L6.0 907.0M19.9 944.6 L21.5 918.8 L60.7 921.2 L59.1 947.1M18.8 962.4 L17.3 988.2 L56.5 990.7 L58.1 964.8M4.8 918.0 L0.6 987.0M14.5 1024.6 L16.1 998.8 L55.3 1001.2 L53.7 1027.1M13.4 1042.4 L11.9 1068.2 L51.1 1070.7 L52.7 1044.8M-0.6 998.0 L-4.8 1067.0M134.1 389.5 L135.7 363.6 L174.9 366.1 L173.3 391.9M133.0 407.2 L131.5 433.1 L170.7 435.6 L172.3 409.7M119.0 362.8 L114.8 431.8M128.8 469.5 L130.4 443.6 L169.6 446.1 L168.1 471.9M127.8 487.2 L126.2 513.1 L165.5 515.6 L167.0 489.7M113.7 442.8 L109.6 511.8M123.6 549.5 L125.2 523.6 L164.4 526.1 L162.8 551.9M122.5 567.2 L121.0 593.1 L160.2 595.6 L161.8 569.7M108.5 522.8 L104.3 591.8M118.3 629.5 L119.9 603.6 L159.1 606.1 L157.6 631.9M117.3 647.2 L115.7 673.1 L155.0 675.6 L156.5 649.7M103.2 602.8 L99.1 671.8M113.1 709.5 L114.7 683.6 L153.9 686.1 L152.3 711.9M112.0 727.2 L110.5 753.1 L149.7 755.6 L151.3 729.7M98.0 682.8 L93.8 751.8M107.8 789.5 L109.4 763.6 L148.6 766.1 L147.1 791.9M106.8 807.2 L105.2 833.1 L144.5 835.6 L146.0 809.7M92.7 762.8 L88.6 831.8M102.6 869.5 L104.2 843.6 L143.4 846.1 L141.8 871.9M101.5 887.2 L100.0 913.1 L139.2 915.6 L140.8 889.7M87.5 842.8 L83.3 911.8M97.3 949.5 L98.9 923.6 L138.1 926.1 L136.6 951.9M96.3 967.2 L94.7 993.1 L134.0 995.6 L135.5 969.7M82.2 922.8 L78.1 991.8M92.1 1029.5 L93.7 1003.6 L132.9 1006.1 L131.3 1031.9M91.0 1047.2 L89.5 1073.1 L128.7 1075.6 L130.3 1049.7M77.0 1002.8 L72.8 1071.8M210.5 394.3 L212.1 368.4 L251.3 370.9 L249.7 396.8M209.4 412.1 L207.9 437.9 L247.1 440.4 L248.7 414.5M195.4 367.7 L191.2 436.7M205.4 474.3 L206.9 448.4 L246.2 450.9 L244.6 476.8M204.3 492.1 L202.8 517.9 L242.0 520.4 L243.6 494.5M190.3 447.7 L186.1 516.7M200.3 554.3 L201.9 528.4 L241.1 530.9 L239.5 556.8M199.2 572.1 L197.7 597.9 L236.9 600.4 L238.5 574.5M185.2 527.7 L181.0 596.7M195.2 634.3 L196.8 608.4 L236.0 610.9 L234.4 636.8M194.1 652.1 L192.6 677.9 L231.8 680.4 L233.4 654.5M180.1 607.7 L175.9 676.7M190.1 714.3 L191.6 688.4 L230.9 690.9 L229.3 716.8M189.0 732.1 L187.5 757.9 L226.7 760.4 L228.3 734.5M175.0 687.7 L170.8 756.7M185.0 794.3 L186.6 768.4 L225.8 770.9 L224.2 796.8M183.9 812.1 L182.4 837.9 L221.6 840.4 L223.2 814.5M169.9 767.7 L165.7 836.7M179.9 874.3 L181.4 848.4 L220.7 850.9 L219.1 876.8M178.8 892.1 L177.3 917.9 L216.5 920.4 L218.1 894.5M164.8 847.7 L160.6 916.7M174.8 954.3 L176.4 928.4 L215.6 930.9 L214.0 956.8M173.7 972.1 L172.2 997.9 L211.4 1000.4 L213.0 974.5M159.7 927.7 L155.5 996.7M169.7 1034.3 L171.2 1008.4 L210.5 1010.9 L208.9 1036.8M168.6 1052.1 L167.1 1077.9 L206.3 1080.4 L207.9 1054.5M154.6 1007.7 L150.4 1076.7M286.9 399.2 L288.4 373.3 L327.7 375.8 L326.1 401.6M285.8 416.9 L284.3 442.8 L323.5 445.3 L325.1 419.4M271.8 372.5 L267.6 441.5M281.9 479.2 L283.5 453.3 L322.7 455.8 L321.2 481.6M280.9 496.9 L279.3 522.8 L318.6 525.3 L320.1 499.4M266.8 452.5 L262.7 521.5M277.0 559.2 L278.6 533.3 L317.8 535.8 L316.2 561.6M275.9 576.9 L274.4 602.8 L313.6 605.3 L315.2 579.4M261.9 532.5 L257.7 601.5M272.0 639.2 L273.6 613.3 L312.8 615.8 L311.3 641.6M271.0 656.9 L269.4 682.8 L308.7 685.3 L310.2 659.4M256.9 612.5 L252.8 681.5M267.1 719.2 L268.7 693.3 L307.9 695.8 L306.3 721.6M266.0 736.9 L264.5 762.8 L303.7 765.3 L305.3 739.4M252.0 692.5 L247.8 761.5M262.1 799.2 L263.7 773.3 L302.9 775.8 L301.4 801.6M261.1 816.9 L259.5 842.8 L298.8 845.3 L300.3 819.4M247.0 772.5 L242.9 841.5M257.2 879.2 L258.8 853.3 L298.0 855.8 L296.4 881.6M256.1 896.9 L254.6 922.8 L293.8 925.3 L295.4 899.4M242.1 852.5 L237.9 921.5M252.2 959.2 L253.8 933.3 L293.0 935.8 L291.5 961.6M251.2 976.9 L249.6 1002.8 L288.9 1005.3 L290.4 979.4M237.1 932.5 L233.0 1001.5M247.3 1039.2 L248.9 1013.3 L288.1 1015.8 L286.5 1041.6M246.2 1056.9 L244.7 1082.8 L283.9 1085.3 L285.5 1059.4M232.2 1012.5 L228.0 1081.5M363.3 404.0 L364.8 378.1 L404.1 380.6 L402.5 406.5M362.2 421.8 L360.7 447.6 L399.9 450.1 L401.5 424.2M348.2 377.4 L344.0 446.4M358.5 484.0 L360.1 458.1 L399.3 460.6 L397.7 486.5M357.4 501.8 L355.9 527.6 L395.1 530.1 L396.7 504.2M343.4 457.4 L339.2 526.4M353.7 564.0 L355.2 538.1 L394.5 540.6 L392.9 566.5M352.6 581.8 L351.1 607.6 L390.3 610.1 L391.9 584.2M338.6 537.4 L334.4 606.4M348.9 644.0 L350.4 618.1 L389.7 620.6 L388.1 646.5M347.8 661.8 L346.3 687.6 L385.5 690.1 L387.1 664.2M333.8 617.4 L329.6 686.4M344.1 724.0 L345.6 698.1 L384.9 700.6 L383.3 726.5M343.0 741.8 L341.5 767.6 L380.7 770.1 L382.3 744.2M329.0 697.4 L324.8 766.4M339.3 804.0 L340.8 778.1 L380.1 780.6 L378.5 806.5M338.2 821.8 L336.7 847.6 L375.9 850.1 L377.5 824.2M324.2 777.4 L320.0 846.4M334.5 884.0 L336.1 858.1 L375.3 860.6 L373.7 886.5M333.4 901.8 L331.9 927.6 L371.1 930.1 L372.7 904.2M319.4 857.4 L315.2 926.4M329.7 964.0 L331.2 938.1 L370.5 940.6 L368.9 966.5M328.6 981.8 L327.1 1007.6 L366.3 1010.1 L367.9 984.2M314.6 937.4 L310.4 1006.4M324.9 1044.0 L326.4 1018.1 L365.7 1020.6 L364.1 1046.5M323.8 1061.8 L322.3 1087.6 L361.5 1090.1 L363.1 1064.2M309.8 1017.4 L305.6 1086.4M439.7 408.9 L441.2 383.0 L480.5 385.5 L478.9 411.3M438.6 426.6 L437.1 452.5 L476.3 455.0 L477.9 429.1M424.6 382.2 L420.4 451.2M435.0 488.9 L436.6 463.0 L475.8 465.5 L474.3 491.3M434.0 506.6 L432.4 532.5 L471.7 535.0 L473.2 509.1M419.9 462.2 L415.8 531.2M430.4 568.9 L431.9 543.0 L471.2 545.5 L469.6 571.3M429.3 586.6 L427.8 612.5 L467.0 615.0 L468.6 589.1M415.3 542.2 L411.1 611.2M425.7 648.9 L427.3 623.0 L466.5 625.5 L465.0 651.3M424.7 666.6 L423.1 692.5 L462.4 695.0 L463.9 669.1M410.6 622.2 L406.5 691.2M421.1 728.9 L422.6 703.0 L461.9 705.5 L460.3 731.3M420.0 746.6 L418.5 772.5 L457.7 775.0 L459.3 749.1M406.0 702.2 L401.8 771.2M416.4 808.9 L418.0 783.0 L457.2 785.5 L455.7 811.3M415.4 826.6 L413.8 852.5 L453.1 855.0 L454.6 829.1M401.3 782.2 L397.2 851.2M411.8 888.9 L413.3 863.0 L452.6 865.5 L451.0 891.3M410.7 906.6 L409.2 932.5 L448.4 935.0 L450.0 909.1M396.7 862.2 L392.5 931.2M407.1 968.9 L408.7 943.0 L447.9 945.5 L446.4 971.3M406.1 986.6 L404.5 1012.5 L443.8 1015.0 L445.3 989.1M392.0 942.2 L387.9 1011.2M402.5 1048.9 L404.0 1023.0 L443.3 1025.5 L441.7 1051.3M401.4 1066.6 L399.9 1092.5 L439.1 1095.0 L440.7 1069.1M387.4 1022.2 L383.2 1091.2M516.1 413.7 L517.6 387.9 L556.9 390.3 L555.3 416.2M515.0 431.5 L513.5 457.3 L552.7 459.8 L554.3 433.9M501.0 387.1 L496.8 456.1M511.6 493.7 L513.1 467.9 L552.4 470.3 L550.8 496.2M510.5 511.5 L509.0 537.3 L548.2 539.8 L549.8 513.9M496.5 467.1 L492.3 536.1M507.1 573.7 L508.6 547.9 L547.9 550.3 L546.3 576.2M506.0 591.5 L504.5 617.3 L543.7 619.8 L545.3 593.9M492.0 547.1 L487.8 616.1M502.6 653.7 L504.1 627.9 L543.4 630.3 L541.8 656.2M501.5 671.5 L500.0 697.3 L539.2 699.8 L540.8 673.9M487.5 627.1 L483.3 696.1M498.1 733.7 L499.6 707.9 L538.9 710.3 L537.3 736.2M497.0 751.5 L495.5 777.3 L534.7 779.8 L536.3 753.9M483.0 707.1 L478.8 776.1M493.6 813.7 L495.1 787.9 L534.4 790.3 L532.8 816.2M492.5 831.5 L491.0 857.3 L530.2 859.8 L531.8 833.9M478.5 787.1 L474.3 856.1M489.1 893.7 L490.6 867.9 L529.9 870.3 L528.3 896.2M488.0 911.5 L486.5 937.3 L525.7 939.8 L527.3 913.9M474.0 867.1 L469.8 936.1M484.6 973.7 L486.1 947.9 L525.4 950.3 L523.8 976.2M483.5 991.5 L482.0 1017.3 L521.2 1019.8 L522.8 993.9M469.5 947.1 L465.3 1016.1M480.1 1053.7 L481.6 1027.8 L520.9 1030.3 L519.3 1056.2M479.0 1071.5 L477.5 1097.3 L516.7 1099.8 L518.3 1073.9M465.0 1027.1 L460.8 1096.1M592.5 418.6 L594.0 392.7 L633.3 395.2 L631.7 421.0M591.4 436.3 L589.9 462.2 L629.1 464.7 L630.7 438.8M577.4 391.9 L573.2 460.9M588.1 498.6 L589.7 472.7 L628.9 475.2 L627.4 501.0M587.1 516.3 L585.5 542.2 L624.8 544.7 L626.3 518.8M573.0 471.9 L568.9 540.9M583.8 578.6 L585.3 552.7 L624.6 555.2 L623.0 581.0M582.7 596.3 L581.2 622.2 L620.4 624.7 L622.0 598.8M568.7 551.9 L564.5 620.9M579.4 658.6 L581.0 632.7 L620.2 635.2 L618.7 661.0M578.4 676.3 L576.8 702.2 L616.1 704.7 L617.6 678.8M564.3 631.9 L560.2 700.9M575.1 738.6 L576.7 712.7 L615.9 715.2 L614.3 741.0M574.0 756.3 L572.5 782.2 L611.7 784.7 L613.3 758.8M560.0 711.9 L555.8 780.9M570.7 818.6 L572.3 792.7 L611.5 795.2 L610.0 821.0M569.7 836.3 L568.1 862.2 L607.4 864.7 L608.9 838.8M555.6 791.9 L551.5 860.9M566.4 898.6 L568.0 872.7 L607.2 875.2 L605.6 901.0M565.3 916.3 L563.8 942.2 L603.0 944.7 L604.6 918.8M551.3 871.9 L547.1 940.9M562.0 978.6 L563.6 952.7 L602.8 955.2 L601.3 981.0M561.0 996.3 L559.4 1022.2 L598.7 1024.7 L600.2 998.8M546.9 951.9 L542.8 1020.9M557.7 1058.6 L559.2 1032.7 L598.5 1035.2 L596.9 1061.0M556.6 1076.3 L555.1 1102.2 L594.3 1104.7 L595.9 1078.8M542.6 1031.9 L538.4 1100.9" transform="translate(-1.5 1.2)" stroke="#1e1e82" stroke-width="5.9" fill="none" stroke-linecap="round" stroke-linejoin="miter"/>
<path d="M-18.7 379.8 L-17.2 353.9 L22.1 356.4 L20.5 382.2M-19.8 397.5 L-21.3 423.4 L17.9 425.9 L19.5 400.0M-33.8 353.1 L-38.0 422.1M-24.3 459.8 L-22.7 433.9 L16.5 436.4 L15.0 462.2M-25.3 477.5 L-26.9 503.4 L12.4 505.9 L13.9 480.0M-39.4 433.1 L-43.5 502.1M-29.8 539.8 L-28.3 513.9 L11.0 516.4 L9.4 542.2M-30.9 557.5 L-32.4 583.4 L6.8 585.9 L8.4 560.0M-44.9 513.1 L-49.1 582.1M-35.4 619.8 L-33.8 593.9 L5.4 596.4 L3.9 622.2M-36.4 637.5 L-38.0 663.4 L1.3 665.9 L2.8 640.0M-50.5 593.1 L-54.6 662.1M-40.9 699.8 L-39.4 673.9 L-0.1 676.4 L-1.7 702.2M-42.0 717.5 L-43.5 743.4 L-4.3 745.9 L-2.7 720.0M-56.0 673.1 L-60.2 742.1M-46.5 779.8 L-44.9 753.9 L-5.7 756.4 L-7.2 782.2M-47.5 797.5 L-49.1 823.4 L-9.8 825.9 L-8.3 800.0M-61.6 753.1 L-65.7 822.1M-52.0 859.8 L-50.5 833.9 L-11.2 836.4 L-12.8 862.2M-53.1 877.5 L-54.6 903.4 L-15.4 905.9 L-13.8 880.0M-67.1 833.1 L-71.3 902.1M-57.6 939.8 L-56.0 913.9 L-16.8 916.4 L-18.3 942.2M-58.6 957.5 L-60.2 983.4 L-20.9 985.9 L-19.4 960.0M-72.7 913.1 L-76.8 982.1M-63.1 1019.8 L-61.6 993.9 L-22.3 996.4 L-23.9 1022.2M-64.2 1037.5 L-65.7 1063.4 L-26.5 1065.9 L-24.9 1040.0M-78.2 993.1 L-82.4 1062.1M57.7 384.6 L59.3 358.8 L98.5 361.2 L96.9 387.1M56.6 402.4 L55.1 428.2 L94.3 430.7 L95.9 404.8M42.6 358.0 L38.4 427.0M52.3 464.6 L53.9 438.8 L93.1 441.2 L91.5 467.1M51.2 482.4 L49.7 508.2 L88.9 510.7 L90.5 484.8M37.2 438.0 L33.0 507.0M46.9 544.6 L48.5 518.8 L87.7 521.2 L86.1 547.1M45.8 562.4 L44.3 588.2 L83.5 590.7 L85.1 564.8M31.8 518.0 L27.6 587.0M41.5 624.6 L43.1 598.8 L82.3 601.2 L80.7 627.1M40.4 642.4 L38.9 668.2 L78.1 670.7 L79.7 644.8M26.4 598.0 L22.2 667.0M36.1 704.6 L37.7 678.8 L76.9 681.2 L75.3 707.1M35.0 722.4 L33.5 748.2 L72.7 750.7 L74.3 724.8M21.0 678.0 L16.8 747.0M30.7 784.6 L32.3 758.8 L71.5 761.2 L69.9 787.1M29.6 802.4 L28.1 828.2 L67.3 830.7 L68.9 804.8M15.6 758.0 L11.4 827.0M25.3 864.6 L26.9 838.8 L66.1 841.2 L64.5 867.1M24.2 882.4 L22.7 908.2 L61.9 910.7 L63.5 884.8M10.2 838.0 L6.0 907.0M19.9 944.6 L21.5 918.8 L60.7 921.2 L59.1 947.1M18.8 962.4 L17.3 988.2 L56.5 990.7 L58.1 964.8M4.8 918.0 L0.6 987.0M14.5 1024.6 L16.1 998.8 L55.3 1001.2 L53.7 1027.1M13.4 1042.4 L11.9 1068.2 L51.1 1070.7 L52.7 1044.8M-0.6 998.0 L-4.8 1067.0M134.1 389.5 L135.7 363.6 L174.9 366.1 L173.3 391.9M133.0 407.2 L131.5 433.1 L170.7 435.6 L172.3 409.7M119.0 362.8 L114.8 431.8M128.8 469.5 L130.4 443.6 L169.6 446.1 L168.1 471.9M127.8 487.2 L126.2 513.1 L165.5 515.6 L167.0 489.7M113.7 442.8 L109.6 511.8M123.6 549.5 L125.2 523.6 L164.4 526.1 L162.8 551.9M122.5 567.2 L121.0 593.1 L160.2 595.6 L161.8 569.7M108.5 522.8 L104.3 591.8M118.3 629.5 L119.9 603.6 L159.1 606.1 L157.6 631.9M117.3 647.2 L115.7 673.1 L155.0 675.6 L156.5 649.7M103.2 602.8 L99.1 671.8M113.1 709.5 L114.7 683.6 L153.9 686.1 L152.3 711.9M112.0 727.2 L110.5 753.1 L149.7 755.6 L151.3 729.7M98.0 682.8 L93.8 751.8M107.8 789.5 L109.4 763.6 L148.6 766.1 L147.1 791.9M106.8 807.2 L105.2 833.1 L144.5 835.6 L146.0 809.7M92.7 762.8 L88.6 831.8M102.6 869.5 L104.2 843.6 L143.4 846.1 L141.8 871.9M101.5 887.2 L100.0 913.1 L139.2 915.6 L140.8 889.7M87.5 842.8 L83.3 911.8M97.3 949.5 L98.9 923.6 L138.1 926.1 L136.6 951.9M96.3 967.2 L94.7 993.1 L134.0 995.6 L135.5 969.7M82.2 922.8 L78.1 991.8M92.1 1029.5 L93.7 1003.6 L132.9 1006.1 L131.3 1031.9M91.0 1047.2 L89.5 1073.1 L128.7 1075.6 L130.3 1049.7M77.0 1002.8 L72.8 1071.8M210.5 394.3 L212.1 368.4 L251.3 370.9 L249.7 396.8M209.4 412.1 L207.9 437.9 L247.1 440.4 L248.7 414.5M195.4 367.7 L191.2 436.7M205.4 474.3 L206.9 448.4 L246.2 450.9 L244.6 476.8M204.3 492.1 L202.8 517.9 L242.0 520.4 L243.6 494.5M190.3 447.7 L186.1 516.7M200.3 554.3 L201.9 528.4 L241.1 530.9 L239.5 556.8M199.2 572.1 L197.7 597.9 L236.9 600.4 L238.5 574.5M185.2 527.7 L181.0 596.7M195.2 634.3 L196.8 608.4 L236.0 610.9 L234.4 636.8M194.1 652.1 L192.6 677.9 L231.8 680.4 L233.4 654.5M180.1 607.7 L175.9 676.7M190.1 714.3 L191.6 688.4 L230.9 690.9 L229.3 716.8M189.0 732.1 L187.5 757.9 L226.7 760.4 L228.3 734.5M175.0 687.7 L170.8 756.7M185.0 794.3 L186.6 768.4 L225.8 770.9 L224.2 796.8M183.9 812.1 L182.4 837.9 L221.6 840.4 L223.2 814.5M169.9 767.7 L165.7 836.7M179.9 874.3 L181.4 848.4 L220.7 850.9 L219.1 876.8M178.8 892.1 L177.3 917.9 L216.5 920.4 L218.1 894.5M164.8 847.7 L160.6 916.7M174.8 954.3 L176.4 928.4 L215.6 930.9 L214.0 956.8M173.7 972.1 L172.2 997.9 L211.4 1000.4 L213.0 974.5M159.7 927.7 L155.5 996.7M169.7 1034.3 L171.2 1008.4 L210.5 1010.9 L208.9 1036.8M168.6 1052.1 L167.1 1077.9 L206.3 1080.4 L207.9 1054.5M154.6 1007.7 L150.4 1076.7M286.9 399.2 L288.4 373.3 L327.7 375.8 L326.1 401.6M285.8 416.9 L284.3 442.8 L323.5 445.3 L325.1 419.4M271.8 372.5 L267.6 441.5M281.9 479.2 L283.5 453.3 L322.7 455.8 L321.2 481.6M280.9 496.9 L279.3 522.8 L318.6 525.3 L320.1 499.4M266.8 452.5 L262.7 521.5M277.0 559.2 L278.6 533.3 L317.8 535.8 L316.2 561.6M275.9 576.9 L274.4 602.8 L313.6 605.3 L315.2 579.4M261.9 532.5 L257.7 601.5M272.0 639.2 L273.6 613.3 L312.8 615.8 L311.3 641.6M271.0 656.9 L269.4 682.8 L308.7 685.3 L310.2 659.4M256.9 612.5 L252.8 681.5M267.1 719.2 L268.7 693.3 L307.9 695.8 L306.3 721.6M266.0 736.9 L264.5 762.8 L303.7 765.3 L305.3 739.4M252.0 692.5 L247.8 761.5M262.1 799.2 L263.7 773.3 L302.9 775.8 L301.4 801.6M261.1 816.9 L259.5 842.8 L298.8 845.3 L300.3 819.4M247.0 772.5 L242.9 841.5M257.2 879.2 L258.8 853.3 L298.0 855.8 L296.4 881.6M256.1 896.9 L254.6 922.8 L293.8 925.3 L295.4 899.4M242.1 852.5 L237.9 921.5M252.2 959.2 L253.8 933.3 L293.0 935.8 L291.5 961.6M251.2 976.9 L249.6 1002.8 L288.9 1005.3 L290.4 979.4M237.1 932.5 L233.0 1001.5M247.3 1039.2 L248.9 1013.3 L288.1 1015.8 L286.5 1041.6M246.2 1056.9 L244.7 1082.8 L283.9 1085.3 L285.5 1059.4M232.2 1012.5 L228.0 1081.5M363.3 404.0 L364.8 378.1 L404.1 380.6 L402.5 406.5M362.2 421.8 L360.7 447.6 L399.9 450.1 L401.5 424.2M348.2 377.4 L344.0 446.4M358.5 484.0 L360.1 458.1 L399.3 460.6 L397.7 486.5M357.4 501.8 L355.9 527.6 L395.1 530.1 L396.7 504.2M343.4 457.4 L339.2 526.4M353.7 564.0 L355.2 538.1 L394.5 540.6 L392.9 566.5M352.6 581.8 L351.1 607.6 L390.3 610.1 L391.9 584.2M338.6 537.4 L334.4 606.4M348.9 644.0 L350.4 618.1 L389.7 620.6 L388.1 646.5M347.8 661.8 L346.3 687.6 L385.5 690.1 L387.1 664.2M333.8 617.4 L329.6 686.4M344.1 724.0 L345.6 698.1 L384.9 700.6 L383.3 726.5M343.0 741.8 L341.5 767.6 L380.7 770.1 L382.3 744.2M329.0 697.4 L324.8 766.4M339.3 804.0 L340.8 778.1 L380.1 780.6 L378.5 806.5M338.2 821.8 L336.7 847.6 L375.9 850.1 L377.5 824.2M324.2 777.4 L320.0 846.4M334.5 884.0 L336.1 858.1 L375.3 860.6 L373.7 886.5M333.4 901.8 L331.9 927.6 L371.1 930.1 L372.7 904.2M319.4 857.4 L315.2 926.4M329.7 964.0 L331.2 938.1 L370.5 940.6 L368.9 966.5M328.6 981.8 L327.1 1007.6 L366.3 1010.1 L367.9 984.2M314.6 937.4 L310.4 1006.4M324.9 1044.0 L326.4 1018.1 L365.7 1020.6 L364.1 1046.5M323.8 1061.8 L322.3 1087.6 L361.5 1090.1 L363.1 1064.2M309.8 1017.4 L305.6 1086.4M439.7 408.9 L441.2 383.0 L480.5 385.5 L478.9 411.3M438.6 426.6 L437.1 452.5 L476.3 455.0 L477.9 429.1M424.6 382.2 L420.4 451.2M435.0 488.9 L436.6 463.0 L475.8 465.5 L474.3 491.3M434.0 506.6 L432.4 532.5 L471.7 535.0 L473.2 509.1M419.9 462.2 L415.8 531.2M430.4 568.9 L431.9 543.0 L471.2 545.5 L469.6 571.3M429.3 586.6 L427.8 612.5 L467.0 615.0 L468.6 589.1M415.3 542.2 L411.1 611.2M425.7 648.9 L427.3 623.0 L466.5 625.5 L465.0 651.3M424.7 666.6 L423.1 692.5 L462.4 695.0 L463.9 669.1M410.6 622.2 L406.5 691.2M421.1 728.9 L422.6 703.0 L461.9 705.5 L460.3 731.3M420.0 746.6 L418.5 772.5 L457.7 775.0 L459.3 749.1M406.0 702.2 L401.8 771.2M416.4 808.9 L418.0 783.0 L457.2 785.5 L455.7 811.3M415.4 826.6 L413.8 852.5 L453.1 855.0 L454.6 829.1M401.3 782.2 L397.2 851.2M411.8 888.9 L413.3 863.0 L452.6 865.5 L451.0 891.3M410.7 906.6 L409.2 932.5 L448.4 935.0 L450.0 909.1M396.7 862.2 L392.5 931.2M407.1 968.9 L408.7 943.0 L447.9 945.5 L446.4 971.3M406.1 986.6 L404.5 1012.5 L443.8 1015.0 L445.3 989.1M392.0 942.2 L387.9 1011.2M402.5 1048.9 L404.0 1023.0 L443.3 1025.5 L441.7 1051.3M401.4 1066.6 L399.9 1092.5 L439.1 1095.0 L440.7 1069.1M387.4 1022.2 L383.2 1091.2M516.1 413.7 L517.6 387.9 L556.9 390.3 L555.3 416.2M515.0 431.5 L513.5 457.3 L552.7 459.8 L554.3 433.9M501.0 387.1 L496.8 456.1M511.6 493.7 L513.1 467.9 L552.4 470.3 L550.8 496.2M510.5 511.5 L509.0 537.3 L548.2 539.8 L549.8 513.9M496.5 467.1 L492.3 536.1M507.1 573.7 L508.6 547.9 L547.9 550.3 L546.3 576.2M506.0 591.5 L504.5 617.3 L543.7 619.8 L545.3 593.9M492.0 547.1 L487.8 616.1M502.6 653.7 L504.1 627.9 L543.4 630.3 L541.8 656.2M501.5 671.5 L500.0 697.3 L539.2 699.8 L540.8 673.9M487.5 627.1 L483.3 696.1M498.1 733.7 L499.6 707.9 L538.9 710.3 L537.3 736.2M497.0 751.5 L495.5 777.3 L534.7 779.8 L536.3 753.9M483.0 707.1 L478.8 776.1M493.6 813.7 L495.1 787.9 L534.4 790.3 L532.8 816.2M492.5 831.5 L491.0 857.3 L530.2 859.8 L531.8 833.9M478.5 787.1 L474.3 856.1M489.1 893.7 L490.6 867.9 L529.9 870.3 L528.3 896.2M488.0 911.5 L486.5 937.3 L525.7 939.8 L527.3 913.9M474.0 867.1 L469.8 936.1M484.6 973.7 L486.1 947.9 L525.4 950.3 L523.8 976.2M483.5 991.5 L482.0 1017.3 L521.2 1019.8 L522.8 993.9M469.5 947.1 L465.3 1016.1M480.1 1053.7 L481.6 1027.8 L520.9 1030.3 L519.3 1056.2M479.0 1071.5 L477.5 1097.3 L516.7 1099.8 L518.3 1073.9M465.0 1027.1 L460.8 1096.1M592.5 418.6 L594.0 392.7 L633.3 395.2 L631.7 421.0M591.4 436.3 L589.9 462.2 L629.1 464.7 L630.7 438.8M577.4 391.9 L573.2 460.9M588.1 498.6 L589.7 472.7 L628.9 475.2 L627.4 501.0M587.1 516.3 L585.5 542.2 L624.8 544.7 L626.3 518.8M573.0 471.9 L568.9 540.9M583.8 578.6 L585.3 552.7 L624.6 555.2 L623.0 581.0M582.7 596.3 L581.2 622.2 L620.4 624.7 L622.0 598.8M568.7 551.9 L564.5 620.9M579.4 658.6 L581.0 632.7 L620.2 635.2 L618.7 661.0M578.4 676.3 L576.8 702.2 L616.1 704.7 L617.6 678.8M564.3 631.9 L560.2 700.9M575.1 738.6 L576.7 712.7 L615.9 715.2 L614.3 741.0M574.0 756.3 L572.5 782.2 L611.7 784.7 L613.3 758.8M560.0 711.9 L555.8 780.9M570.7 818.6 L572.3 792.7 L611.5 795.2 L610.0 821.0M569.7 836.3 L568.1 862.2 L607.4 864.7 L608.9 838.8M555.6 791.9 L551.5 860.9M566.4 898.6 L568.0 872.7 L607.2 875.2 L605.6 901.0M565.3 916.3 L563.8 942.2 L603.0 944.7 L604.6 918.8M551.3 871.9 L547.1 940.9M562.0 978.6 L563.6 952.7 L602.8 955.2 L601.3 981.0M561.0 996.3 L559.4 1022.2 L598.7 1024.7 L600.2 998.8M546.9 951.9 L542.8 1020.9M557.7 1058.6 L559.2 1032.7 L598.5 1035.2 L596.9 1061.0M556.6 1076.3 L555.1 1102.2 L594.3 1104.7 L595.9 1078.8M542.6 1031.9 L538.4 1100.9" stroke="#9adc5c" stroke-width="5.6" fill="none" stroke-linecap="round" stroke-linejoin="miter"/>
<path d="M-18.7 379.8 L-17.2 353.9 L22.1 356.4 L20.5 382.2M-19.8 397.5 L-21.3 423.4 L17.9 425.9 L19.5 400.0M-33.8 353.1 L-38.0 422.1M-24.3 459.8 L-22.7 433.9 L16.5 436.4 L15.0 462.2M-25.3 477.5 L-26.9 503.4 L12.4 505.9 L13.9 480.0M-39.4 433.1 L-43.5 502.1M-29.8 539.8 L-28.3 513.9 L11.0 516.4 L9.4 542.2M-30.9 557.5 L-32.4 583.4 L6.8 585.9 L8.4 560.0M-44.9 513.1 L-49.1 582.1M-35.4 619.8 L-33.8 593.9 L5.4 596.4 L3.9 622.2M-36.4 637.5 L-38.0 663.4 L1.3 665.9 L2.8 640.0M-50.5 593.1 L-54.6 662.1M-40.9 699.8 L-39.4 673.9 L-0.1 676.4 L-1.7 702.2M-42.0 717.5 L-43.5 743.4 L-4.3 745.9 L-2.7 720.0M-56.0 673.1 L-60.2 742.1M-46.5 779.8 L-44.9 753.9 L-5.7 756.4 L-7.2 782.2M-47.5 797.5 L-49.1 823.4 L-9.8 825.9 L-8.3 800.0M-61.6 753.1 L-65.7 822.1M-52.0 859.8 L-50.5 833.9 L-11.2 836.4 L-12.8 862.2M-53.1 877.5 L-54.6 903.4 L-15.4 905.9 L-13.8 880.0M-67.1 833.1 L-71.3 902.1M-57.6 939.8 L-56.0 913.9 L-16.8 916.4 L-18.3 942.2M-58.6 957.5 L-60.2 983.4 L-20.9 985.9 L-19.4 960.0M-72.7 913.1 L-76.8 982.1M-63.1 1019.8 L-61.6 993.9 L-22.3 996.4 L-23.9 1022.2M-64.2 1037.5 L-65.7 1063.4 L-26.5 1065.9 L-24.9 1040.0M-78.2 993.1 L-82.4 1062.1M57.7 384.6 L59.3 358.8 L98.5 361.2 L96.9 387.1M56.6 402.4 L55.1 428.2 L94.3 430.7 L95.9 404.8M42.6 358.0 L38.4 427.0M52.3 464.6 L53.9 438.8 L93.1 441.2 L91.5 467.1M51.2 482.4 L49.7 508.2 L88.9 510.7 L90.5 484.8M37.2 438.0 L33.0 507.0M46.9 544.6 L48.5 518.8 L87.7 521.2 L86.1 547.1M45.8 562.4 L44.3 588.2 L83.5 590.7 L85.1 564.8M31.8 518.0 L27.6 587.0M41.5 624.6 L43.1 598.8 L82.3 601.2 L80.7 627.1M40.4 642.4 L38.9 668.2 L78.1 670.7 L79.7 644.8M26.4 598.0 L22.2 667.0M36.1 704.6 L37.7 678.8 L76.9 681.2 L75.3 707.1M35.0 722.4 L33.5 748.2 L72.7 750.7 L74.3 724.8M21.0 678.0 L16.8 747.0M30.7 784.6 L32.3 758.8 L71.5 761.2 L69.9 787.1M29.6 802.4 L28.1 828.2 L67.3 830.7 L68.9 804.8M15.6 758.0 L11.4 827.0M25.3 864.6 L26.9 838.8 L66.1 841.2 L64.5 867.1M24.2 882.4 L22.7 908.2 L61.9 910.7 L63.5 884.8M10.2 838.0 L6.0 907.0M19.9 944.6 L21.5 918.8 L60.7 921.2 L59.1 947.1M18.8 962.4 L17.3 988.2 L56.5 990.7 L58.1 964.8M4.8 918.0 L0.6 987.0M14.5 1024.6 L16.1 998.8 L55.3 1001.2 L53.7 1027.1M13.4 1042.4 L11.9 1068.2 L51.1 1070.7 L52.7 1044.8M-0.6 998.0 L-4.8 1067.0M134.1 389.5 L135.7 363.6 L174.9 366.1 L173.3 391.9M133.0 407.2 L131.5 433.1 L170.7 435.6 L172.3 409.7M119.0 362.8 L114.8 431.8M128.8 469.5 L130.4 443.6 L169.6 446.1 L168.1 471.9M127.8 487.2 L126.2 513.1 L165.5 515.6 L167.0 489.7M113.7 442.8 L109.6 511.8M123.6 549.5 L125.2 523.6 L164.4 526.1 L162.8 551.9M122.5 567.2 L121.0 593.1 L160.2 595.6 L161.8 569.7M108.5 522.8 L104.3 591.8M118.3 629.5 L119.9 603.6 L159.1 606.1 L157.6 631.9M117.3 647.2 L115.7 673.1 L155.0 675.6 L156.5 649.7M103.2 602.8 L99.1 671.8M113.1 709.5 L114.7 683.6 L153.9 686.1 L152.3 711.9M112.0 727.2 L110.5 753.1 L149.7 755.6 L151.3 729.7M98.0 682.8 L93.8 751.8M107.8 789.5 L109.4 763.6 L148.6 766.1 L147.1 791.9M106.8 807.2 L105.2 833.1 L144.5 835.6 L146.0 809.7M92.7 762.8 L88.6 831.8M102.6 869.5 L104.2 843.6 L143.4 846.1 L141.8 871.9M101.5 887.2 L100.0 913.1 L139.2 915.6 L140.8 889.7M87.5 842.8 L83.3 911.8M97.3 949.5 L98.9 923.6 L138.1 926.1 L136.6 951.9M96.3 967.2 L94.7 993.1 L134.0 995.6 L135.5 969.7M82.2 922.8 L78.1 991.8M92.1 1029.5 L93.7 1003.6 L132.9 1006.1 L131.3 1031.9M91.0 1047.2 L89.5 1073.1 L128.7 1075.6 L130.3 1049.7M77.0 1002.8 L72.8 1071.8M210.5 394.3 L212.1 368.4 L251.3 370.9 L249.7 396.8M209.4 412.1 L207.9 437.9 L247.1 440.4 L248.7 414.5M195.4 367.7 L191.2 436.7M205.4 474.3 L206.9 448.4 L246.2 450.9 L244.6 476.8M204.3 492.1 L202.8 517.9 L242.0 520.4 L243.6 494.5M190.3 447.7 L186.1 516.7M200.3 554.3 L201.9 528.4 L241.1 530.9 L239.5 556.8M199.2 572.1 L197.7 597.9 L236.9 600.4 L238.5 574.5M185.2 527.7 L181.0 596.7M195.2 634.3 L196.8 608.4 L236.0 610.9 L234.4 636.8M194.1 652.1 L192.6 677.9 L231.8 680.4 L233.4 654.5M180.1 607.7 L175.9 676.7M190.1 714.3 L191.6 688.4 L230.9 690.9 L229.3 716.8M189.0 732.1 L187.5 757.9 L226.7 760.4 L228.3 734.5M175.0 687.7 L170.8 756.7M185.0 794.3 L186.6 768.4 L225.8 770.9 L224.2 796.8M183.9 812.1 L182.4 837.9 L221.6 840.4 L223.2 814.5M169.9 767.7 L165.7 836.7M179.9 874.3 L181.4 848.4 L220.7 850.9 L219.1 876.8M178.8 892.1 L177.3 917.9 L216.5 920.4 L218.1 894.5M164.8 847.7 L160.6 916.7M174.8 954.3 L176.4 928.4 L215.6 930.9 L214.0 956.8M173.7 972.1 L172.2 997.9 L211.4 1000.4 L213.0 974.5M159.7 927.7 L155.5 996.7M169.7 1034.3 L171.2 1008.4 L210.5 1010.9 L208.9 1036.8M168.6 1052.1 L167.1 1077.9 L206.3 1080.4 L207.9 1054.5M154.6 1007.7 L150.4 1076.7M286.9 399.2 L288.4 373.3 L327.7 375.8 L326.1 401.6M285.8 416.9 L284.3 442.8 L323.5 445.3 L325.1 419.4M271.8 372.5 L267.6 441.5M281.9 479.2 L283.5 453.3 L322.7 455.8 L321.2 481.6M280.9 496.9 L279.3 522.8 L318.6 525.3 L320.1 499.4M266.8 452.5 L262.7 521.5M277.0 559.2 L278.6 533.3 L317.8 535.8 L316.2 561.6M275.9 576.9 L274.4 602.8 L313.6 605.3 L315.2 579.4M261.9 532.5 L257.7 601.5M272.0 639.2 L273.6 613.3 L312.8 615.8 L311.3 641.6M271.0 656.9 L269.4 682.8 L308.7 685.3 L310.2 659.4M256.9 612.5 L252.8 681.5M267.1 719.2 L268.7 693.3 L307.9 695.8 L306.3 721.6M266.0 736.9 L264.5 762.8 L303.7 765.3 L305.3 739.4M252.0 692.5 L247.8 761.5M262.1 799.2 L263.7 773.3 L302.9 775.8 L301.4 801.6M261.1 816.9 L259.5 842.8 L298.8 845.3 L300.3 819.4M247.0 772.5 L242.9 841.5M257.2 879.2 L258.8 853.3 L298.0 855.8 L296.4 881.6M256.1 896.9 L254.6 922.8 L293.8 925.3 L295.4 899.4M242.1 852.5 L237.9 921.5M252.2 959.2 L253.8 933.3 L293.0 935.8 L291.5 961.6M251.2 976.9 L249.6 1002.8 L288.9 1005.3 L290.4 979.4M237.1 932.5 L233.0 1001.5M247.3 1039.2 L248.9 1013.3 L288.1 1015.8 L286.5 1041.6M246.2 1056.9 L244.7 1082.8 L283.9 1085.3 L285.5 1059.4M232.2 1012.5 L228.0 1081.5M363.3 404.0 L364.8 378.1 L404.1 380.6 L402.5 406.5M362.2 421.8 L360.7 447.6 L399.9 450.1 L401.5 424.2M348.2 377.4 L344.0 446.4M358.5 484.0 L360.1 458.1 L399.3 460.6 L397.7 486.5M357.4 501.8 L355.9 527.6 L395.1 530.1 L396.7 504.2M343.4 457.4 L339.2 526.4M353.7 564.0 L355.2 538.1 L394.5 540.6 L392.9 566.5M352.6 581.8 L351.1 607.6 L390.3 610.1 L391.9 584.2M338.6 537.4 L334.4 606.4M348.9 644.0 L350.4 618.1 L389.7 620.6 L388.1 646.5M347.8 661.8 L346.3 687.6 L385.5 690.1 L387.1 664.2M333.8 617.4 L329.6 686.4M344.1 724.0 L345.6 698.1 L384.9 700.6 L383.3 726.5M343.0 741.8 L341.5 767.6 L380.7 770.1 L382.3 744.2M329.0 697.4 L324.8 766.4M339.3 804.0 L340.8 778.1 L380.1 780.6 L378.5 806.5M338.2 821.8 L336.7 847.6 L375.9 850.1 L377.5 824.2M324.2 777.4 L320.0 846.4M334.5 884.0 L336.1 858.1 L375.3 860.6 L373.7 886.5M333.4 901.8 L331.9 927.6 L371.1 930.1 L372.7 904.2M319.4 857.4 L315.2 926.4M329.7 964.0 L331.2 938.1 L370.5 940.6 L368.9 966.5M328.6 981.8 L327.1 1007.6 L366.3 1010.1 L367.9 984.2M314.6 937.4 L310.4 1006.4M324.9 1044.0 L326.4 1018.1 L365.7 1020.6 L364.1 1046.5M323.8 1061.8 L322.3 1087.6 L361.5 1090.1 L363.1 1064.2M309.8 1017.4 L305.6 1086.4M439.7 408.9 L441.2 383.0 L480.5 385.5 L478.9 411.3M438.6 426.6 L437.1 452.5 L476.3 455.0 L477.9 429.1M424.6 382.2 L420.4 451.2M435.0 488.9 L436.6 463.0 L475.8 465.5 L474.3 491.3M434.0 506.6 L432.4 532.5 L471.7 535.0 L473.2 509.1M419.9 462.2 L415.8 531.2M430.4 568.9 L431.9 543.0 L471.2 545.5 L469.6 571.3M429.3 586.6 L427.8 612.5 L467.0 615.0 L468.6 589.1M415.3 542.2 L411.1 611.2M425.7 648.9 L427.3 623.0 L466.5 625.5 L465.0 651.3M424.7 666.6 L423.1 692.5 L462.4 695.0 L463.9 669.1M410.6 622.2 L406.5 691.2M421.1 728.9 L422.6 703.0 L461.9 705.5 L460.3 731.3M420.0 746.6 L418.5 772.5 L457.7 775.0 L459.3 749.1M406.0 702.2 L401.8 771.2M416.4 808.9 L418.0 783.0 L457.2 785.5 L455.7 811.3M415.4 826.6 L413.8 852.5 L453.1 855.0 L454.6 829.1M401.3 782.2 L397.2 851.2M411.8 888.9 L413.3 863.0 L452.6 865.5 L451.0 891.3M410.7 906.6 L409.2 932.5 L448.4 935.0 L450.0 909.1M396.7 862.2 L392.5 931.2M407.1 968.9 L408.7 943.0 L447.9 945.5 L446.4 971.3M406.1 986.6 L404.5 1012.5 L443.8 1015.0 L445.3 989.1M392.0 942.2 L387.9 1011.2M402.5 1048.9 L404.0 1023.0 L443.3 1025.5 L441.7 1051.3M401.4 1066.6 L399.9 1092.5 L439.1 1095.0 L440.7 1069.1M387.4 1022.2 L383.2 1091.2M516.1 413.7 L517.6 387.9 L556.9 390.3 L555.3 416.2M515.0 431.5 L513.5 457.3 L552.7 459.8 L554.3 433.9M501.0 387.1 L496.8 456.1M511.6 493.7 L513.1 467.9 L552.4 470.3 L550.8 496.2M510.5 511.5 L509.0 537.3 L548.2 539.8 L549.8 513.9M496.5 467.1 L492.3 536.1M507.1 573.7 L508.6 547.9 L547.9 550.3 L546.3 576.2M506.0 591.5 L504.5 617.3 L543.7 619.8 L545.3 593.9M492.0 547.1 L487.8 616.1M502.6 653.7 L504.1 627.9 L543.4 630.3 L541.8 656.2M501.5 671.5 L500.0 697.3 L539.2 699.8 L540.8 673.9M487.5 627.1 L483.3 696.1M498.1 733.7 L499.6 707.9 L538.9 710.3 L537.3 736.2M497.0 751.5 L495.5 777.3 L534.7 779.8 L536.3 753.9M483.0 707.1 L478.8 776.1M493.6 813.7 L495.1 787.9 L534.4 790.3 L532.8 816.2M492.5 831.5 L491.0 857.3 L530.2 859.8 L531.8 833.9M478.5 787.1 L474.3 856.1M489.1 893.7 L490.6 867.9 L529.9 870.3 L528.3 896.2M488.0 911.5 L486.5 937.3 L525.7 939.8 L527.3 913.9M474.0 867.1 L469.8 936.1M484.6 973.7 L486.1 947.9 L525.4 950.3 L523.8 976.2M483.5 991.5 L482.0 1017.3 L521.2 1019.8 L522.8 993.9M469.5 947.1 L465.3 1016.1M480.1 1053.7 L481.6 1027.8 L520.9 1030.3 L519.3 1056.2M479.0 1071.5 L477.5 1097.3 L516.7 1099.8 L518.3 1073.9M465.0 1027.1 L460.8 1096.1M592.5 418.6 L594.0 392.7 L633.3 395.2 L631.7 421.0M591.4 436.3 L589.9 462.2 L629.1 464.7 L630.7 438.8M577.4 391.9 L573.2 460.9M588.1 498.6 L589.7 472.7 L628.9 475.2 L627.4 501.0M587.1 516.3 L585.5 542.2 L624.8 544.7 L626.3 518.8M573.0 471.9 L568.9 540.9M583.8 578.6 L585.3 552.7 L624.6 555.2 L623.0 581.0M582.7 596.3 L581.2 622.2 L620.4 624.7 L622.0 598.8M568.7 551.9 L564.5 620.9M579.4 658.6 L581.0 632.7 L620.2 635.2 L618.7 661.0M578.4 676.3 L576.8 702.2 L616.1 704.7 L617.6 678.8M564.3 631.9 L560.2 700.9M575.1 738.6 L576.7 712.7 L615.9 715.2 L614.3 741.0M574.0 756.3 L572.5 782.2 L611.7 784.7 L613.3 758.8M560.0 711.9 L555.8 780.9M570.7 818.6 L572.3 792.7 L611.5 795.2 L610.0 821.0M569.7 836.3 L568.1 862.2 L607.4 864.7 L608.9 838.8M555.6 791.9 L551.5 860.9M566.4 898.6 L568.0 872.7 L607.2 875.2 L605.6 901.0M565.3 916.3 L563.8 942.2 L603.0 944.7 L604.6 918.8M551.3 871.9 L547.1 940.9M562.0 978.6 L563.6 952.7 L602.8 955.2 L601.3 981.0M561.0 996.3 L559.4 1022.2 L598.7 1024.7 L600.2 998.8M546.9 951.9 L542.8 1020.9M557.7 1058.6 L559.2 1032.7 L598.5 1035.2 L596.9 1061.0M556.6 1076.3 L555.1 1102.2 L594.3 1104.7 L595.9 1078.8M542.6 1031.9 L538.4 1100.9" stroke="#e2f7b6" stroke-width="3.5" fill="none" stroke-linecap="round" stroke-linejoin="miter"/>
<line x1="417.5" y1="884.6" x2="479" y2="884.6" stroke="#d9532c" stroke-width="2"/>
<text x="449.5" y="856.3" text-anchor="middle" font-family='"Liberation Serif", serif' font-weight="700" font-size="16.5" fill="#d95a30">75μm</text>
</g></g>
</g>
<g filter="url(#soft2)"><g id="pb">
<clipPath id="cb"><rect x="616.8" y="81.3" width="373.0" height="321.9"/></clipPath>
<g clip-path="url(#cb)" fill="none" stroke-width="2.3" stroke-linejoin="round">
<path d="M616.8 95.9 C617.6 96.3 620.5 98.2 622.0 98.6 C623.5 99.0 625.4 98.0 627.0 98.4 C628.6 98.8 631.0 100.7 633.0 101.3 C635.0 101.9 638.0 101.6 640.0 102.2 C642.0 102.8 644.2 104.4 646.0 105.0 C647.8 105.6 650.1 105.5 652.2 106.2 C654.3 106.9 657.6 108.8 660.0 109.6 C662.4 110.4 665.4 110.9 668.0 111.8 C670.6 112.7 672.4 113.3 677.6 115.4 C682.9 117.5 694.8 121.9 703.0 125.6 C711.2 129.3 726.3 136.7 732.6 140.0 C738.9 143.3 742.1 146.0 745.3 147.6 C748.5 149.2 751.6 149.8 754.1 150.8 C756.6 151.8 759.4 152.8 761.8 154.0 C764.2 155.2 765.7 156.4 770.0 159.0 C774.3 161.6 783.5 166.9 790.4 171.6 C797.3 176.3 808.1 184.1 815.7 190.6 C823.3 197.1 836.0 209.1 841.1 214.7 C846.2 220.3 847.3 223.4 850.0 228.2 C852.7 233.0 856.6 240.4 859.2 246.6 C861.8 252.8 865.1 261.7 867.2 269.6 C869.3 277.5 871.5 290.1 873.0 299.4 C874.5 308.7 876.1 324.2 877.1 331.6 C878.1 339.0 879.1 349.5 879.9 348.8 C880.7 348.1 881.9 336.8 882.6 327.0 C883.4 317.2 884.2 296.8 884.9 283.4 C885.6 270.0 886.5 249.3 887.2 237.4 C887.9 225.5 888.9 207.2 889.7 204.1 C890.5 201.0 891.6 211.7 892.5 216.7 C893.4 221.7 894.9 231.9 895.9 237.4 C896.9 242.9 898.0 249.9 899.4 253.5 C900.8 257.1 902.2 257.4 905.1 261.5 C908.0 265.6 913.4 273.0 918.9 281.1 C924.4 289.2 935.0 305.3 941.9 315.5 C948.8 325.7 959.1 340.5 964.8 348.8 C970.5 357.1 976.2 365.4 980.0 370.6 C983.8 375.8 988.5 381.6 990.0 383.5" stroke="#2a22e0"/>
<path d="M616.8 108.6 C619.3 110.2 627.4 114.8 631.9 118.0 C636.4 121.2 639.6 123.8 643.5 127.5 C647.4 131.2 651.6 136.0 655.2 140.0 C658.9 144.0 661.6 146.3 665.4 151.4 C669.2 156.5 674.2 164.1 678.0 170.4 C681.8 176.8 685.0 182.7 688.2 189.5 C691.4 196.3 694.4 203.6 697.1 211.0 C699.9 218.4 702.7 227.3 704.7 233.8 C706.7 240.3 707.2 242.3 709.2 250.0 C711.2 257.7 714.4 270.4 716.8 280.1 C719.2 289.9 721.2 298.8 723.4 308.5 C725.6 318.2 727.9 328.9 730.1 338.6 C732.3 348.4 734.7 358.9 736.8 367.0 C738.9 375.1 741.0 382.1 742.7 387.0 C744.4 391.9 745.7 394.2 746.8 396.2 C747.9 398.1 748.4 398.7 749.3 398.7 C750.2 398.7 751.1 398.7 752.2 396.2 C753.3 393.7 754.7 389.1 756.0 383.7 C757.3 378.3 758.7 372.0 760.2 363.6 C761.7 355.2 763.5 344.1 765.2 333.5 C766.9 322.9 768.5 310.7 770.2 300.1 C771.9 289.5 773.8 278.5 775.2 270.1 C776.6 261.8 777.7 255.4 778.6 250.0 C779.5 244.6 779.4 245.4 780.6 237.6 C781.8 229.8 783.7 213.8 785.6 203.0 C787.5 192.2 789.6 182.5 792.2 172.6 C794.9 162.7 797.6 152.8 801.5 143.7 C805.4 134.6 810.8 124.7 815.7 118.3 C820.6 111.9 826.1 108.0 831.0 105.2 C835.9 102.4 839.8 101.4 844.9 101.3 C850.0 101.2 856.1 102.2 861.4 104.4 C866.7 106.6 872.4 110.9 876.6 114.5 C880.8 118.1 884.4 122.8 886.8 126.0 C889.2 129.2 890.0 130.2 891.1 133.6 C892.2 137.0 892.6 141.7 893.1 146.3 C893.6 151.0 893.9 155.9 894.4 161.5 C894.9 167.1 895.3 173.8 895.9 180.0 C896.5 186.2 897.1 192.7 898.2 198.4 C899.4 204.2 900.9 209.5 902.8 214.5 C904.7 219.5 907.0 224.0 909.7 228.2 C912.4 232.4 915.5 236.2 918.9 239.7 C922.3 243.1 926.6 246.6 930.4 248.9 C934.2 251.2 938.1 252.4 941.9 253.5 C945.7 254.6 949.6 255.1 953.4 255.3 C957.2 255.5 960.4 255.3 964.8 254.6 C969.2 253.9 975.8 252.5 980.0 251.2 C984.2 249.9 988.3 247.4 990.0 246.6" stroke="#ee2a2a"/>
<path d="M616.8 124.3 C618.7 126.0 624.1 130.7 628.0 134.5 C631.9 138.3 635.9 142.4 640.0 147.0 C644.1 151.6 648.5 156.8 652.7 162.2 C656.9 167.6 661.2 172.9 665.4 179.3 C669.6 185.8 674.2 193.5 678.0 200.9 C681.8 208.3 685.6 216.9 688.2 223.7 C690.8 230.5 692.2 236.3 693.7 241.5 C695.2 246.7 695.6 249.4 697.2 255.0 C698.8 260.6 701.2 266.8 703.4 275.1 C705.5 283.5 708.1 295.4 710.1 305.1 C712.1 314.8 713.6 324.6 715.1 333.5 C716.6 342.4 718.2 351.6 719.3 358.6 C720.4 365.6 721.0 371.2 721.8 375.3 C722.6 379.4 723.5 383.3 724.3 383.3 C725.1 383.3 726.0 380.8 726.8 375.3 C727.6 369.8 728.6 358.7 729.3 350.3 C730.0 341.9 730.5 334.9 731.0 325.2 C731.5 315.4 732.1 301.6 732.6 291.8 C733.1 282.1 733.7 277.2 734.3 266.7 C734.9 256.2 735.4 239.4 736.4 228.8 C737.4 218.2 738.9 209.0 740.2 203.4 C741.5 197.8 742.7 195.2 744.0 195.2 C745.3 195.2 746.5 199.5 747.8 203.4 C749.1 207.3 750.1 212.2 751.6 218.6 C753.1 224.9 755.2 234.8 756.7 241.5 C758.2 248.2 759.7 254.2 760.8 259.0 C761.9 263.8 762.2 263.1 763.5 270.0 C764.8 276.9 766.9 289.5 768.6 300.1 C770.3 310.7 771.9 323.8 773.6 333.5 C775.3 343.2 777.2 351.9 778.6 358.6 C780.0 365.3 780.9 370.1 781.9 373.6 C782.9 377.1 783.4 379.5 784.4 379.5 C785.4 379.5 786.8 377.1 787.8 373.6 C788.8 370.1 789.3 366.7 790.3 358.6 C791.3 350.5 792.5 337.7 793.6 325.2 C794.7 312.7 796.0 295.9 797.0 283.4 C798.0 270.9 798.5 263.6 799.5 250.0 C800.5 236.4 801.7 214.3 803.1 202.1 C804.5 189.9 806.2 182.1 808.1 176.7 C810.0 171.3 812.0 169.2 814.5 169.6 C817.0 170.0 818.9 172.1 823.3 179.2 C827.7 186.3 835.6 201.6 841.1 212.2 C846.6 222.8 852.1 233.8 856.3 242.6 C860.5 251.4 862.9 258.2 866.1 265.0 C869.3 271.8 872.2 278.0 875.3 283.4 C878.4 288.8 882.0 292.9 884.5 297.1 C887.0 301.3 888.7 304.4 890.2 308.6 C891.7 312.8 892.7 318.6 893.6 322.4 C894.5 326.2 894.4 328.5 895.9 331.6 C897.4 334.7 899.7 337.0 902.8 340.8 C905.9 344.6 909.7 350.4 914.3 354.6 C918.9 358.8 925.0 362.9 930.4 366.0 C935.8 369.1 940.8 371.0 946.5 372.9 C952.2 374.8 959.2 375.8 964.8 377.5 C970.4 379.2 975.8 381.2 980.0 383.3 C984.2 385.4 988.3 388.7 990.0 389.8" stroke="#2fe6ee"/>
</g>
<rect x="616.8" y="81.3" width="373.0" height="321.9" fill="none" stroke="#1c1c1c" stroke-width="2"/>
<line x1="610.8" y1="403.2" x2="616.8" y2="403.2" stroke="#1c1c1c" stroke-width="1.8"/>
<text x="608.3" y="408.8" text-anchor="end" font-family='"Liberation Serif", serif' font-weight="700" font-size="16.5" fill="#1c1c1c" stroke="#1c1c1c" stroke-width="0.3">0.0</text>
<line x1="613.2" y1="371.0" x2="616.8" y2="371.0" stroke="#1c1c1c" stroke-width="1.8"/>
<line x1="610.8" y1="338.8" x2="616.8" y2="338.8" stroke="#1c1c1c" stroke-width="1.8"/>
<text x="608.3" y="344.4" text-anchor="end" font-family='"Liberation Serif", serif' font-weight="700" font-size="16.5" fill="#1c1c1c" stroke="#1c1c1c" stroke-width="0.3">0.2</text>
<line x1="613.2" y1="306.6" x2="616.8" y2="306.6" stroke="#1c1c1c" stroke-width="1.8"/>
<line x1="610.8" y1="274.4" x2="616.8" y2="274.4" stroke="#1c1c1c" stroke-width="1.8"/>
<text x="608.3" y="280.0" text-anchor="end" font-family='"Liberation Serif", serif' font-weight="700" font-size="16.5" fill="#1c1c1c" stroke="#1c1c1c" stroke-width="0.3">0.4</text>
<line x1="613.2" y1="242.2" x2="616.8" y2="242.2" stroke="#1c1c1c" stroke-width="1.8"/>
<line x1="610.8" y1="210.1" x2="616.8" y2="210.1" stroke="#1c1c1c" stroke-width="1.8"/>
<text x="608.3" y="215.7" text-anchor="end" font-family='"Liberation Serif", serif' font-weight="700" font-size="16.5" fill="#1c1c1c" stroke="#1c1c1c" stroke-width="0.3">0.6</text>
<line x1="613.2" y1="177.9" x2="616.8" y2="177.9" stroke="#1c1c1c" stroke-width="1.8"/>
<line x1="610.8" y1="145.7" x2="616.8" y2="145.7" stroke="#1c1c1c" stroke-width="1.8"/>
<text x="608.3" y="151.3" text-anchor="end" font-family='"Liberation Serif", serif' font-weight="700" font-size="16.5" fill="#1c1c1c" stroke="#1c1c1c" stroke-width="0.3">0.8</text>
<line x1="613.2" y1="113.5" x2="616.8" y2="113.5" stroke="#1c1c1c" stroke-width="1.8"/>
<line x1="610.8" y1="81.3" x2="616.8" y2="81.3" stroke="#1c1c1c" stroke-width="1.8"/>
<text x="608.3" y="86.9" text-anchor="end" font-family='"Liberation Serif", serif' font-weight="700" font-size="16.5" fill="#1c1c1c" stroke="#1c1c1c" stroke-width="0.3">1.0</text>
<line x1="616.8" y1="403.2" x2="616.8" y2="409.2" stroke="#1c1c1c" stroke-width="1.8"/>
<text x="616.8" y="428.8" text-anchor="middle" font-family='"Liberation Serif", serif' font-weight="700" font-size="18.0" textLength="20.8" lengthAdjust="spacingAndGlyphs" fill="#1c1c1c" stroke="#1c1c1c" stroke-width="0.3">0.5</text>
<line x1="663.4" y1="403.2" x2="663.4" y2="406.7" stroke="#1c1c1c" stroke-width="1.8"/>
<line x1="710.0" y1="403.2" x2="710.0" y2="409.2" stroke="#1c1c1c" stroke-width="1.8"/>
<text x="710.0" y="428.8" text-anchor="middle" font-family='"Liberation Serif", serif' font-weight="700" font-size="18.0" textLength="20.8" lengthAdjust="spacingAndGlyphs" fill="#1c1c1c" stroke="#1c1c1c" stroke-width="0.3">1.0</text>
<line x1="756.7" y1="403.2" x2="756.7" y2="406.7" stroke="#1c1c1c" stroke-width="1.8"/>
<line x1="803.3" y1="403.2" x2="803.3" y2="409.2" stroke="#1c1c1c" stroke-width="1.8"/>
<text x="803.3" y="428.8" text-anchor="middle" font-family='"Liberation Serif", serif' font-weight="700" font-size="18.0" textLength="20.8" lengthAdjust="spacingAndGlyphs" fill="#1c1c1c" stroke="#1c1c1c" stroke-width="0.3">1.5</text>
<line x1="849.9" y1="403.2" x2="849.9" y2="406.7" stroke="#1c1c1c" stroke-width="1.8"/>
<line x1="896.5" y1="403.2" x2="896.5" y2="409.2" stroke="#1c1c1c" stroke-width="1.8"/>
<text x="896.5" y="428.8" text-anchor="middle" font-family='"Liberation Serif", serif' font-weight="700" font-size="18.0" textLength="20.8" lengthAdjust="spacingAndGlyphs" fill="#1c1c1c" stroke="#1c1c1c" stroke-width="0.3">2.0</text>
<line x1="943.2" y1="403.2" x2="943.2" y2="406.7" stroke="#1c1c1c" stroke-width="1.8"/>
<line x1="989.8" y1="403.2" x2="989.8" y2="409.2" stroke="#1c1c1c" stroke-width="1.8"/>
<text x="989.8" y="428.8" text-anchor="middle" font-family='"Liberation Serif", serif' font-weight="700" font-size="18.0" textLength="20.8" lengthAdjust="spacingAndGlyphs" fill="#1c1c1c" stroke="#1c1c1c" stroke-width="0.3">2.5</text>
<text transform="translate(566.0 248.5) rotate(-90)" text-anchor="middle" font-family='"Liberation Serif", serif' font-weight="700" font-size="16" letter-spacing="1.8" fill="#1c1c1c" stroke="#1c1c1c" stroke-width="0.3">Transmission</text>
<rect x="915.6" y="88.8" width="66" height="56.5" fill="#c9c9c9"/>
<rect x="914.4" y="87.6" width="66" height="56.5" fill="#fff" stroke="#9a9a9a" stroke-width="1"/>
<line x1="916.5" y1="98.6" x2="945.5" y2="98.6" stroke="#2fe6ee" stroke-width="2.4"/>
<text x="948" y="103.2" font-family='"Liberation Serif", serif' font-weight="700" font-size="13.5" fill="#1c1c1c">EIT</text>
<line x1="916.5" y1="117.1" x2="945.5" y2="117.1" stroke="#ee2a2a" stroke-width="2.4"/>
<text x="948" y="121.7" font-family='"Liberation Serif", serif' font-weight="700" font-size="13.5" fill="#1c1c1c">CW</text>
<line x1="916.5" y1="135.6" x2="945.5" y2="135.6" stroke="#2a22e0" stroke-width="2.4"/>
<text x="948" y="140.2" font-family='"Liberation Serif", serif' font-weight="700" font-size="13.5" fill="#1c1c1c">SRRs</text>
</g>
<g id="pd">
<polyline points="616.3,641.9 621.8,646.4 627.3,651.2 632.8,656.3 638.2,662.2 643.7,668.5 649.2,675.3 654.7,682.7 660.2,690.8 665.7,699.7 671.1,710.1 676.6,723.3 682.1,738.5 687.6,760.8 693.1,772.0 698.6,775.7 704.1,783.3 709.5,809.1 715.0,832.1 720.5,839.8 726.0,823.9 731.5,792.0 737.0,758.2 742.5,724.1 747.9,695.1 753.4,674.1 758.9,660.9 764.4,657.1 769.9,658.3 775.4,663.4 780.8,670.3 786.3,677.4 791.8,685.5 797.3,696.0 802.8,706.0 808.3,715.8 813.8,726.0 819.2,735.9 824.7,745.6 830.2,755.2 835.7,767.5 841.2,780.2 846.7,791.6 852.2,801.8 857.6,813.2 863.1,825.1 868.6,834.2 874.1,833.5 879.6,824.1 885.1,809.4 890.5,806.8 896.0,812.4 901.5,804.8 907.0,782.7 912.5,767.5 918.0,770.1 923.5,780.2 928.9,782.2 934.4,772.6 939.9,758.1 945.4,741.6 950.9,732.0 956.4,726.9 961.9,717.5 967.3,696.5 972.8,706.6 978.3,712.2 983.8,718.1 989.3,690.1 994.8,694.0" fill="none" stroke="#a325a8" stroke-width="2" stroke-linejoin="round"/>
<circle cx="616.3" cy="641.9" r="2.7" fill="#8e1c94"/><circle cx="621.8" cy="646.4" r="2.7" fill="#8e1c94"/><circle cx="627.3" cy="651.2" r="2.7" fill="#8e1c94"/><circle cx="632.8" cy="656.3" r="2.7" fill="#8e1c94"/><circle cx="638.2" cy="662.2" r="2.7" fill="#8e1c94"/><circle cx="643.7" cy="668.5" r="2.7" fill="#8e1c94"/><circle cx="649.2" cy="675.3" r="2.7" fill="#8e1c94"/><circle cx="654.7" cy="682.7" r="2.7" fill="#8e1c94"/><circle cx="660.2" cy="690.8" r="2.7" fill="#8e1c94"/><circle cx="665.7" cy="699.7" r="2.7" fill="#8e1c94"/><circle cx="671.1" cy="710.1" r="2.7" fill="#8e1c94"/><circle cx="676.6" cy="723.3" r="2.7" fill="#8e1c94"/><circle cx="682.1" cy="738.5" r="2.7" fill="#8e1c94"/><circle cx="687.6" cy="760.8" r="2.7" fill="#8e1c94"/><circle cx="693.1" cy="772.0" r="2.7" fill="#8e1c94"/><circle cx="698.6" cy="775.7" r="2.7" fill="#8e1c94"/><circle cx="704.1" cy="783.3" r="2.7" fill="#8e1c94"/><circle cx="709.5" cy="809.1" r="2.7" fill="#8e1c94"/><circle cx="715.0" cy="832.1" r="2.7" fill="#8e1c94"/><circle cx="720.5" cy="839.8" r="2.7" fill="#8e1c94"/><circle cx="726.0" cy="823.9" r="2.7" fill="#8e1c94"/><circle cx="731.5" cy="792.0" r="2.7" fill="#8e1c94"/><circle cx="737.0" cy="758.2" r="2.7" fill="#8e1c94"/><circle cx="742.5" cy="724.1" r="2.7" fill="#8e1c94"/><circle cx="747.9" cy="695.1" r="2.7" fill="#8e1c94"/><circle cx="753.4" cy="674.1" r="2.7" fill="#8e1c94"/><circle cx="758.9" cy="660.9" r="2.7" fill="#8e1c94"/><circle cx="764.4" cy="657.1" r="2.7" fill="#8e1c94"/><circle cx="769.9" cy="658.3" r="2.7" fill="#8e1c94"/><circle cx="775.4" cy="663.4" r="2.7" fill="#8e1c94"/><circle cx="780.8" cy="670.3" r="2.7" fill="#8e1c94"/><circle cx="786.3" cy="677.4" r="2.7" fill="#8e1c94"/><circle cx="791.8" cy="685.5" r="2.7" fill="#8e1c94"/><circle cx="797.3" cy="696.0" r="2.7" fill="#8e1c94"/><circle cx="802.8" cy="706.0" r="2.7" fill="#8e1c94"/><circle cx="808.3" cy="715.8" r="2.7" fill="#8e1c94"/><circle cx="813.8" cy="726.0" r="2.7" fill="#8e1c94"/><circle cx="819.2" cy="735.9" r="2.7" fill="#8e1c94"/><circle cx="824.7" cy="745.6" r="2.7" fill="#8e1c94"/><circle cx="830.2" cy="755.2" r="2.7" fill="#8e1c94"/><circle cx="835.7" cy="767.5" r="2.7" fill="#8e1c94"/><circle cx="841.2" cy="780.2" r="2.7" fill="#8e1c94"/><circle cx="846.7" cy="791.6" r="2.7" fill="#8e1c94"/><circle cx="852.2" cy="801.8" r="2.7" fill="#8e1c94"/><circle cx="857.6" cy="813.2" r="2.7" fill="#8e1c94"/><circle cx="863.1" cy="825.1" r="2.7" fill="#8e1c94"/><circle cx="868.6" cy="834.2" r="2.7" fill="#8e1c94"/><circle cx="874.1" cy="833.5" r="2.7" fill="#8e1c94"/><circle cx="879.6" cy="824.1" r="2.7" fill="#8e1c94"/><circle cx="885.1" cy="809.4" r="2.7" fill="#8e1c94"/><circle cx="890.5" cy="806.8" r="2.7" fill="#8e1c94"/><circle cx="896.0" cy="812.4" r="2.7" fill="#8e1c94"/><circle cx="901.5" cy="804.8" r="2.7" fill="#8e1c94"/><circle cx="907.0" cy="782.7" r="2.7" fill="#8e1c94"/><circle cx="912.5" cy="767.5" r="2.7" fill="#8e1c94"/><circle cx="918.0" cy="770.1" r="2.7" fill="#8e1c94"/><circle cx="923.5" cy="780.2" r="2.7" fill="#8e1c94"/><circle cx="928.9" cy="782.2" r="2.7" fill="#8e1c94"/><circle cx="934.4" cy="772.6" r="2.7" fill="#8e1c94"/><circle cx="939.9" cy="758.1" r="2.7" fill="#8e1c94"/><circle cx="945.4" cy="741.6" r="2.7" fill="#8e1c94"/><circle cx="950.9" cy="732.0" r="2.7" fill="#8e1c94"/><circle cx="956.4" cy="726.9" r="2.7" fill="#8e1c94"/><circle cx="961.9" cy="717.5" r="2.7" fill="#8e1c94"/><circle cx="967.3" cy="696.5" r="2.7" fill="#8e1c94"/><circle cx="972.8" cy="706.6" r="2.7" fill="#8e1c94"/><circle cx="978.3" cy="712.2" r="2.7" fill="#8e1c94"/><circle cx="983.8" cy="718.1" r="2.7" fill="#8e1c94"/><circle cx="989.3" cy="690.1" r="2.7" fill="#8e1c94"/><circle cx="994.8" cy="694.0" r="2.7" fill="#8e1c94"/>
<rect x="614.0" y="534.3" width="383.6" height="331.5" fill="none" stroke="#1c1c1c" stroke-width="2"/>
<line x1="608.0" y1="865.8" x2="614.0" y2="865.8" stroke="#1c1c1c" stroke-width="1.8"/>
<text x="605.5" y="871.4" text-anchor="end" font-family='"Liberation Serif", serif' font-weight="700" font-size="16.5" fill="#1c1c1c" stroke="#1c1c1c" stroke-width="0.3">0.0</text>
<line x1="610.4" y1="832.6" x2="614.0" y2="832.6" stroke="#1c1c1c" stroke-width="1.8"/>
<line x1="608.0" y1="799.5" x2="614.0" y2="799.5" stroke="#1c1c1c" stroke-width="1.8"/>
<text x="605.5" y="805.1" text-anchor="end" font-family='"Liberation Serif", serif' font-weight="700" font-size="16.5" fill="#1c1c1c" stroke="#1c1c1c" stroke-width="0.3">0.2</text>
<line x1="610.4" y1="766.3" x2="614.0" y2="766.3" stroke="#1c1c1c" stroke-width="1.8"/>
<line x1="608.0" y1="733.2" x2="614.0" y2="733.2" stroke="#1c1c1c" stroke-width="1.8"/>
<text x="605.5" y="738.8" text-anchor="end" font-family='"Liberation Serif", serif' font-weight="700" font-size="16.5" fill="#1c1c1c" stroke="#1c1c1c" stroke-width="0.3">0.4</text>
<line x1="610.4" y1="700.0" x2="614.0" y2="700.0" stroke="#1c1c1c" stroke-width="1.8"/>
<line x1="608.0" y1="666.9" x2="614.0" y2="666.9" stroke="#1c1c1c" stroke-width="1.8"/>
<text x="605.5" y="672.5" text-anchor="end" font-family='"Liberation Serif", serif' font-weight="700" font-size="16.5" fill="#1c1c1c" stroke="#1c1c1c" stroke-width="0.3">0.6</text>
<line x1="610.4" y1="633.8" x2="614.0" y2="633.8" stroke="#1c1c1c" stroke-width="1.8"/>
<line x1="608.0" y1="600.6" x2="614.0" y2="600.6" stroke="#1c1c1c" stroke-width="1.8"/>
<text x="605.5" y="606.2" text-anchor="end" font-family='"Liberation Serif", serif' font-weight="700" font-size="16.5" fill="#1c1c1c" stroke="#1c1c1c" stroke-width="0.3">0.8</text>
<line x1="610.4" y1="567.4" x2="614.0" y2="567.4" stroke="#1c1c1c" stroke-width="1.8"/>
<line x1="608.0" y1="534.3" x2="614.0" y2="534.3" stroke="#1c1c1c" stroke-width="1.8"/>
<text x="605.5" y="539.9" text-anchor="end" font-family='"Liberation Serif", serif' font-weight="700" font-size="16.5" fill="#1c1c1c" stroke="#1c1c1c" stroke-width="0.3">1.0</text>
<line x1="614.0" y1="865.8" x2="614.0" y2="871.8" stroke="#1c1c1c" stroke-width="1.8"/>
<text x="614.0" y="891.4" text-anchor="middle" font-family='"Liberation Serif", serif' font-weight="700" font-size="18.0" textLength="20.8" lengthAdjust="spacingAndGlyphs" fill="#1c1c1c" stroke="#1c1c1c" stroke-width="0.3">0.5</text>
<line x1="662.0" y1="865.8" x2="662.0" y2="869.3" stroke="#1c1c1c" stroke-width="1.8"/>
<line x1="709.9" y1="865.8" x2="709.9" y2="871.8" stroke="#1c1c1c" stroke-width="1.8"/>
<text x="709.9" y="891.4" text-anchor="middle" font-family='"Liberation Serif", serif' font-weight="700" font-size="18.0" textLength="20.8" lengthAdjust="spacingAndGlyphs" fill="#1c1c1c" stroke="#1c1c1c" stroke-width="0.3">1.0</text>
<line x1="757.9" y1="865.8" x2="757.9" y2="869.3" stroke="#1c1c1c" stroke-width="1.8"/>
<line x1="805.8" y1="865.8" x2="805.8" y2="871.8" stroke="#1c1c1c" stroke-width="1.8"/>
<text x="805.8" y="891.4" text-anchor="middle" font-family='"Liberation Serif", serif' font-weight="700" font-size="18.0" textLength="20.8" lengthAdjust="spacingAndGlyphs" fill="#1c1c1c" stroke="#1c1c1c" stroke-width="0.3">1.5</text>
<line x1="853.8" y1="865.8" x2="853.8" y2="869.3" stroke="#1c1c1c" stroke-width="1.8"/>
<line x1="901.7" y1="865.8" x2="901.7" y2="871.8" stroke="#1c1c1c" stroke-width="1.8"/>
<text x="901.7" y="891.4" text-anchor="middle" font-family='"Liberation Serif", serif' font-weight="700" font-size="18.0" textLength="20.8" lengthAdjust="spacingAndGlyphs" fill="#1c1c1c" stroke="#1c1c1c" stroke-width="0.3">2.0</text>
<line x1="949.7" y1="865.8" x2="949.7" y2="869.3" stroke="#1c1c1c" stroke-width="1.8"/>
<line x1="997.6" y1="865.8" x2="997.6" y2="871.8" stroke="#1c1c1c" stroke-width="1.8"/>
<text x="997.6" y="891.4" text-anchor="middle" font-family='"Liberation Serif", serif' font-weight="700" font-size="18.0" textLength="20.8" lengthAdjust="spacingAndGlyphs" fill="#1c1c1c" stroke="#1c1c1c" stroke-width="0.3">2.5</text>
<text transform="translate(566.0 696.0) rotate(-90)" text-anchor="middle" font-family='"Liberation Serif", serif' font-weight="700" font-size="16" letter-spacing="1.95" fill="#1c1c1c" stroke="#1c1c1c" stroke-width="0.3">Transmission</text>
<text x="793" y="526.6" text-anchor="middle" font-family='"Liberation Serif", serif' font-weight="700" font-size="17.2" fill="#1c1c1c">Frequency(THz)</text>
<text x="800" y="917.6" text-anchor="middle" font-family='"Liberation Serif", serif' font-weight="700" font-size="17.2" fill="#1c1c1c">Frequency(THz)</text>
</g>
<text x="15" y="48" font-family='"Liberation Serif", serif' font-weight="700" font-size="45.5" fill="#0a0a0a">(a)</text>
<text x="512" y="45.5" font-family='"Liberation Serif", serif' font-weight="700" font-size="45.5" fill="#0a0a0a">(b)</text>
<text x="15" y="502.6" font-family='"Liberation Serif", serif' font-weight="700" font-size="45.5" fill="#0a0a0a">(c)</text>
<text x="512" y="496.5" font-family='"Liberation Serif", serif' font-weight="700" font-size="45.5" fill="#0a0a0a">(d)</text>
<text x="260" y="941.8" font-family='"Liberation Sans", sans-serif' font-size="16.5" textLength="17" lengthAdjust="spacingAndGlyphs" fill="#858585">85</text>
</g>
</svg>
</body></html>
